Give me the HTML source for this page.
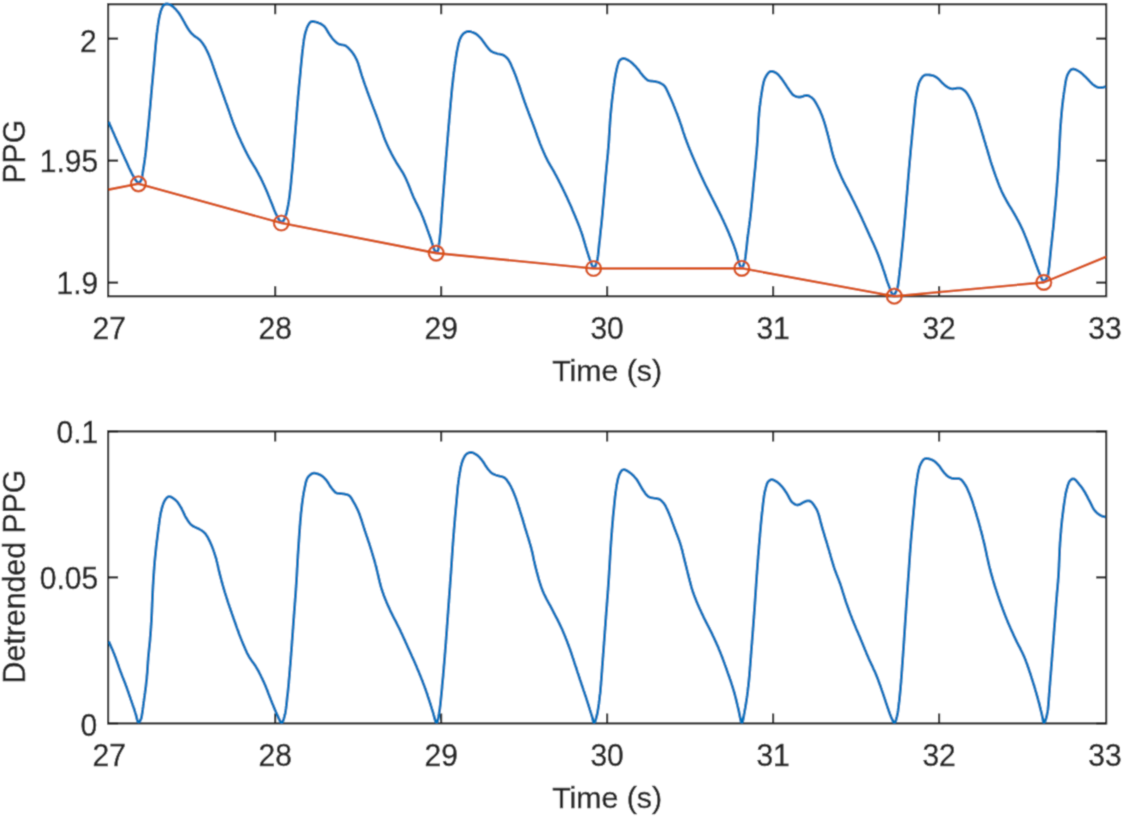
<!DOCTYPE html>
<html><head><meta charset="utf-8"><title>PPG</title>
<style>
html,body{margin:0;padding:0;background:#fff;}
body{width:1124px;height:818px;overflow:hidden;}
svg{display:block;}
.tk{font-family:"Liberation Sans",Arial,sans-serif;font-size:30.0px;fill:#262626;stroke:#262626;stroke-width:0.45px;}
.lb{font-family:"Liberation Sans",Arial,sans-serif;font-size:30.3px;fill:#262626;stroke:#262626;stroke-width:0.45px;}
</style></head><body>
<svg width="1124" height="818" viewBox="0 0 1124 818">
<defs><filter id="bl" x="0" y="0" width="1124" height="818" filterUnits="userSpaceOnUse"><feConvolveMatrix order="3" kernelMatrix="1 4 1 4 16 4 1 4 1" edgeMode="duplicate" preserveAlpha="true"/></filter></defs>
<g filter="url(#bl)">
<rect width="1124" height="818" fill="#fff"/>
<rect x="108.1" y="4.25" width="998.1" height="292.0" fill="none" stroke="#262626" stroke-width="2.2"/>
<path d="M275.18,296.25v-10M275.18,4.25v10M441.15,296.25v-10M441.15,4.25v10M607.12,296.25v-10M607.12,4.25v10M773.10,296.25v-10M773.10,4.25v10M939.08,296.25v-10M939.08,4.25v10M108.1,38.65h10M1106.2,38.65h-10M108.1,160.6h10M1106.2,160.6h-10M108.1,282.55h10M1106.2,282.55h-10" stroke="#262626" stroke-width="2.2" fill="none"/>
<text transform="translate(109.20,338.80) scale(1,1.04)" text-anchor="middle" class="tk">27</text>
<text transform="translate(275.18,338.80) scale(1,1.04)" text-anchor="middle" class="tk">28</text>
<text transform="translate(441.15,338.80) scale(1,1.04)" text-anchor="middle" class="tk">29</text>
<text transform="translate(607.12,338.80) scale(1,1.04)" text-anchor="middle" class="tk">30</text>
<text transform="translate(773.10,338.80) scale(1,1.04)" text-anchor="middle" class="tk">31</text>
<text transform="translate(939.08,338.80) scale(1,1.04)" text-anchor="middle" class="tk">32</text>
<text transform="translate(1105.05,338.80) scale(1,1.04)" text-anchor="middle" class="tk">33</text>
<text transform="translate(96.70,52.05) scale(1,1.04)" text-anchor="end" class="tk">2</text>
<text transform="translate(98.20,172.00) scale(1,1.04)" text-anchor="end" class="tk">1.95</text>
<text transform="translate(98.20,293.95) scale(1,1.04)" text-anchor="end" class="tk">1.9</text>
<clipPath id="clip4"><rect x="108.1" y="0.25" width="998.1" height="300.0"/></clipPath>
<g clip-path="url(#clip4)"><path d="M108.7,121.9 109.0,122.5 109.3,123.4 109.7,124.3 110.1,125.2 110.5,126.1 110.9,127.0 111.3,127.9 111.7,128.8 112.1,129.8 112.5,130.7 112.9,131.6 113.3,132.5 113.7,133.4 114.1,134.3 114.5,135.2 114.9,136.2 115.3,137.1 115.7,138.0 116.1,138.9 116.5,139.8 116.9,140.7 117.3,141.6 117.7,142.6 118.1,143.5 118.5,144.4 119.0,145.3 119.4,146.2 119.8,147.1 120.2,148.0 120.6,149.0 121.0,149.9 121.4,150.8 121.8,151.7 122.2,152.6 122.6,153.5 123.0,154.4 123.5,155.3 123.9,156.3 124.3,157.2 124.7,158.1 125.1,159.0 125.5,159.9 125.9,160.8 126.4,161.7 126.8,162.6 127.2,163.5 127.6,164.4 128.0,165.4 128.4,166.3 128.8,167.2 129.2,168.1 129.7,169.0 130.1,169.9 130.5,170.8 131.0,171.7 131.4,172.6 131.9,173.5 132.3,174.4 132.8,175.3 133.3,176.1 133.8,177.0 134.3,177.9 134.8,178.7 135.3,179.6 135.9,180.4 136.5,181.2 137.2,181.9 137.9,182.4 138.7,182.6 139.5,182.3 140.2,181.7 140.8,180.9 141.2,180.0 141.6,179.1 141.8,178.1 142.0,177.2 142.2,176.2 142.4,175.2 142.5,174.2 142.7,173.2 142.8,172.2 143.0,171.3 143.1,170.3 143.3,169.3 143.4,168.3 143.6,167.3 143.8,166.3 143.9,165.3 144.1,164.3 144.2,163.3 144.4,162.4 144.5,161.4 144.6,160.4 144.8,159.4 144.9,158.4 145.0,157.4 145.2,156.4 145.3,155.4 145.4,154.4 145.5,153.4 145.7,152.4 145.8,151.5 145.9,150.5 146.0,149.5 146.1,148.5 146.2,147.5 146.3,146.5 146.4,145.5 146.5,144.5 146.6,143.5 146.7,142.5 146.8,141.5 146.9,140.5 147.0,139.5 147.1,138.5 147.2,137.5 147.3,136.5 147.4,135.5 147.5,134.5 147.6,133.5 147.7,132.5 147.8,131.6 147.9,130.6 148.0,129.6 148.1,128.6 148.2,127.6 148.3,126.6 148.4,125.6 148.5,124.6 148.6,123.6 148.7,122.6 148.8,121.6 148.9,120.6 149.0,119.6 149.1,118.6 149.2,117.6 149.2,116.6 149.3,115.6 149.4,114.6 149.5,113.6 149.6,112.6 149.7,111.6 149.8,110.6 149.9,109.7 150.0,108.7 150.1,107.7 150.2,106.7 150.3,105.7 150.4,104.7 150.4,103.7 150.5,102.7 150.6,101.7 150.7,100.7 150.8,99.7 150.9,98.7 151.0,97.7 151.1,96.7 151.1,95.7 151.2,94.7 151.3,93.7 151.4,92.7 151.5,91.7 151.6,90.7 151.7,89.7 151.8,88.7 151.8,87.7 151.9,86.7 152.0,85.7 152.1,84.8 152.2,83.8 152.3,82.8 152.4,81.8 152.5,80.8 152.6,79.8 152.7,78.8 152.8,77.8 152.8,76.8 152.9,75.8 153.0,74.8 153.1,73.8 153.2,72.8 153.3,71.8 153.4,70.8 153.5,69.8 153.6,68.8 153.7,67.8 153.8,66.8 153.9,65.8 154.0,64.8 154.1,63.8 154.1,62.8 154.2,61.8 154.3,60.9 154.4,59.9 154.5,58.9 154.6,57.9 154.7,56.9 154.8,55.9 154.8,54.9 154.9,53.9 155.0,52.9 155.1,51.9 155.2,50.9 155.3,49.9 155.4,48.9 155.4,47.9 155.5,46.9 155.6,45.9 155.7,44.9 155.8,43.9 155.9,42.9 156.0,41.9 156.1,40.9 156.2,39.9 156.3,38.9 156.4,37.9 156.5,37.0 156.6,36.0 156.7,35.0 156.8,34.0 156.9,33.0 157.1,32.0 157.2,31.0 157.3,30.0 157.4,29.0 157.6,28.0 157.7,27.0 157.8,26.0 158.0,25.0 158.1,24.1 158.3,23.1 158.4,22.1 158.6,21.1 158.8,20.1 158.9,19.1 159.1,18.1 159.3,17.2 159.5,16.2 159.7,15.2 160.0,14.2 160.2,13.3 160.4,12.3 160.7,11.3 161.0,10.4 161.4,9.4 161.7,8.5 162.2,7.6 162.6,6.7 163.2,5.9 163.8,5.2 164.6,4.6 165.4,4.1 166.3,3.8 167.3,3.8 168.3,4.0 169.2,4.3 170.1,4.7 170.9,5.2 171.8,5.8 172.6,6.4 173.3,7.0 174.1,7.7 174.8,8.4 175.5,9.1 176.2,9.8 176.8,10.6 177.5,11.4 178.1,12.1 178.7,12.9 179.3,13.7 179.8,14.6 180.4,15.4 180.9,16.3 181.4,17.1 181.9,18.0 182.4,18.8 182.9,19.7 183.4,20.6 183.9,21.5 184.4,22.3 184.8,23.2 185.3,24.1 185.8,25.0 186.3,25.8 186.8,26.7 187.3,27.6 187.8,28.4 188.4,29.3 188.9,30.1 189.5,30.9 190.1,31.7 190.7,32.5 191.4,33.2 192.1,33.9 192.8,34.6 193.5,35.3 194.3,36.0 195.1,36.5 196.0,37.1 196.8,37.6 197.6,38.2 198.4,38.8 199.2,39.4 199.9,40.1 200.6,40.8 201.3,41.6 201.9,42.4 202.5,43.1 203.1,44.0 203.6,44.8 204.2,45.6 204.7,46.5 205.2,47.3 205.7,48.2 206.1,49.1 206.6,50.0 207.0,50.9 207.4,51.8 207.9,52.7 208.3,53.6 208.7,54.5 209.1,55.5 209.5,56.4 209.9,57.3 210.2,58.2 210.6,59.2 211.0,60.1 211.3,61.0 211.7,62.0 212.0,62.9 212.3,63.9 212.6,64.8 213.0,65.7 213.3,66.7 213.6,67.6 213.9,68.6 214.3,69.5 214.6,70.5 214.9,71.4 215.2,72.4 215.6,73.3 215.9,74.3 216.2,75.2 216.6,76.1 216.9,77.1 217.2,78.0 217.6,79.0 217.9,79.9 218.2,80.8 218.6,81.8 218.9,82.7 219.3,83.7 219.6,84.6 219.9,85.6 220.3,86.5 220.6,87.4 220.9,88.4 221.3,89.3 221.6,90.3 221.9,91.2 222.3,92.2 222.6,93.1 222.9,94.0 223.3,95.0 223.6,95.9 223.9,96.9 224.3,97.8 224.6,98.8 224.9,99.7 225.3,100.6 225.6,101.6 225.9,102.5 226.3,103.5 226.6,104.4 227.0,105.3 227.3,106.3 227.6,107.2 228.0,108.2 228.3,109.1 228.6,110.1 229.0,111.0 229.3,111.9 229.6,112.9 229.9,113.8 230.3,114.8 230.6,115.7 230.9,116.7 231.2,117.6 231.6,118.6 231.9,119.5 232.3,120.4 232.6,121.4 232.9,122.3 233.3,123.3 233.6,124.2 234.0,125.1 234.4,126.1 234.7,127.0 235.1,127.9 235.5,128.8 235.9,129.8 236.3,130.7 236.6,131.6 237.0,132.5 237.4,133.4 237.8,134.4 238.2,135.3 238.6,136.2 239.0,137.1 239.4,138.0 239.9,138.9 240.3,139.8 240.7,140.8 241.1,141.7 241.5,142.6 242.0,143.5 242.4,144.4 242.8,145.3 243.2,146.2 243.7,147.1 244.1,148.0 244.5,148.9 245.0,149.8 245.4,150.7 245.9,151.6 246.3,152.5 246.8,153.4 247.2,154.2 247.7,155.1 248.2,156.0 248.6,156.9 249.1,157.8 249.6,158.6 250.1,159.5 250.6,160.4 251.1,161.2 251.6,162.1 252.2,163.0 252.7,163.8 253.2,164.7 253.7,165.5 254.2,166.4 254.8,167.2 255.3,168.1 255.8,168.9 256.3,169.8 256.8,170.7 257.3,171.6 257.7,172.4 258.2,173.3 258.7,174.2 259.1,175.1 259.6,176.0 260.1,176.9 260.5,177.8 261.0,178.6 261.4,179.5 261.8,180.4 262.3,181.3 262.7,182.2 263.1,183.1 263.6,184.0 264.0,185.0 264.4,185.9 264.8,186.8 265.2,187.7 265.6,188.6 266.0,189.5 266.4,190.4 266.8,191.4 267.2,192.3 267.6,193.2 267.9,194.1 268.3,195.1 268.7,196.0 269.1,196.9 269.4,197.8 269.8,198.8 270.2,199.7 270.6,200.6 270.9,201.6 271.3,202.5 271.7,203.4 272.1,204.3 272.4,205.3 272.8,206.2 273.1,207.1 273.5,208.1 273.9,209.0 274.2,209.9 274.6,210.9 275.0,211.8 275.4,212.7 275.8,213.6 276.2,214.5 276.7,215.4 277.1,216.3 277.6,217.2 278.1,218.1 278.6,218.9 279.1,219.8 279.7,220.6 280.3,221.3 281.1,221.8 281.8,222.0 282.6,221.7 283.2,221.1 283.7,220.2 284.2,219.4 284.6,218.4 285.0,217.5 285.3,216.6 285.7,215.7 286.0,214.7 286.3,213.8 286.6,212.8 286.8,211.8 287.0,210.8 287.2,209.9 287.4,208.9 287.6,207.9 287.8,206.9 288.0,205.9 288.2,205.0 288.3,204.0 288.5,203.0 288.7,202.0 288.8,201.0 289.0,200.0 289.1,199.0 289.3,198.1 289.4,197.1 289.6,196.1 289.7,195.1 289.8,194.1 289.9,193.1 290.0,192.1 290.1,191.1 290.2,190.1 290.4,189.1 290.5,188.1 290.6,187.1 290.7,186.1 290.8,185.1 290.9,184.1 291.0,183.1 291.1,182.1 291.2,181.2 291.2,180.2 291.3,179.2 291.4,178.2 291.5,177.2 291.6,176.2 291.7,175.2 291.8,174.2 291.9,173.2 292.0,172.2 292.1,171.2 292.2,170.2 292.3,169.2 292.4,168.2 292.5,167.2 292.5,166.2 292.6,165.2 292.7,164.2 292.8,163.2 292.9,162.2 293.0,161.2 293.1,160.2 293.1,159.2 293.2,158.2 293.3,157.3 293.4,156.3 293.5,155.3 293.5,154.3 293.6,153.3 293.7,152.3 293.8,151.3 293.8,150.3 293.9,149.3 294.0,148.3 294.1,147.3 294.2,146.3 294.2,145.3 294.3,144.3 294.4,143.3 294.5,142.3 294.5,141.3 294.6,140.3 294.7,139.3 294.8,138.3 294.9,137.3 294.9,136.3 295.0,135.3 295.1,134.3 295.2,133.3 295.3,132.3 295.3,131.3 295.4,130.3 295.5,129.3 295.6,128.3 295.6,127.3 295.7,126.3 295.8,125.3 295.9,124.4 296.0,123.4 296.0,122.4 296.1,121.4 296.2,120.4 296.3,119.4 296.4,118.4 296.4,117.4 296.5,116.4 296.6,115.4 296.7,114.4 296.7,113.4 296.8,112.4 296.9,111.4 297.0,110.4 297.1,109.4 297.1,108.4 297.2,107.4 297.3,106.4 297.4,105.4 297.5,104.4 297.5,103.4 297.6,102.4 297.7,101.4 297.8,100.4 297.9,99.4 298.0,98.4 298.0,97.4 298.1,96.4 298.2,95.4 298.3,94.5 298.4,93.5 298.5,92.5 298.6,91.5 298.7,90.5 298.8,89.5 298.8,88.5 298.9,87.5 299.0,86.5 299.1,85.5 299.2,84.5 299.3,83.5 299.4,82.5 299.5,81.5 299.6,80.5 299.7,79.5 299.8,78.5 299.9,77.5 300.0,76.5 300.1,75.5 300.2,74.5 300.3,73.5 300.4,72.5 300.5,71.6 300.5,70.6 300.6,69.6 300.7,68.6 300.8,67.6 300.9,66.6 301.0,65.6 301.1,64.6 301.2,63.6 301.3,62.6 301.4,61.6 301.5,60.6 301.6,59.6 301.7,58.6 301.8,57.6 301.9,56.6 302.0,55.6 302.1,54.6 302.2,53.6 302.3,52.6 302.4,51.6 302.5,50.7 302.6,49.7 302.8,48.7 302.9,47.7 303.0,46.7 303.1,45.7 303.3,44.7 303.4,43.7 303.5,42.7 303.7,41.7 303.8,40.7 303.9,39.7 304.1,38.8 304.3,37.8 304.5,36.8 304.7,35.8 304.9,34.8 305.1,33.9 305.3,32.9 305.6,31.9 305.9,31.0 306.2,30.0 306.5,29.1 306.8,28.1 307.2,27.2 307.6,26.3 308.1,25.4 308.6,24.5 309.1,23.7 309.7,22.9 310.3,22.2 311.1,21.7 312.0,21.5 313.0,21.5 314.0,21.6 314.9,21.8 315.9,22.0 316.9,22.3 317.8,22.6 318.7,23.0 319.7,23.4 320.6,23.8 321.4,24.3 322.3,24.8 323.1,25.4 323.9,26.0 324.6,26.7 325.2,27.5 325.8,28.3 326.3,29.1 326.8,30.0 327.3,30.8 327.8,31.7 328.3,32.6 328.9,33.4 329.4,34.2 330.0,35.1 330.5,35.9 331.1,36.7 331.7,37.5 332.3,38.3 333.0,39.1 333.6,39.8 334.3,40.6 335.0,41.3 335.8,41.9 336.5,42.6 337.3,43.2 338.2,43.7 339.1,44.1 340.0,44.3 341.0,44.6 342.0,44.8 343.0,45.0 343.9,45.2 344.9,45.5 345.8,45.9 346.6,46.5 347.4,47.1 348.1,47.7 348.8,48.5 349.5,49.2 350.2,49.9 350.8,50.7 351.5,51.5 352.1,52.2 352.7,53.0 353.3,53.8 353.8,54.7 354.4,55.5 354.9,56.4 355.4,57.3 355.8,58.1 356.3,59.0 356.7,59.9 357.1,60.8 357.5,61.8 357.9,62.7 358.2,63.6 358.5,64.6 358.8,65.5 359.1,66.5 359.4,67.5 359.7,68.4 359.9,69.4 360.2,70.3 360.5,71.3 360.8,72.3 361.1,73.2 361.4,74.2 361.7,75.1 362.0,76.1 362.3,77.0 362.6,78.0 363.0,78.9 363.3,79.9 363.6,80.8 363.9,81.8 364.2,82.7 364.6,83.6 364.9,84.6 365.2,85.5 365.6,86.5 365.9,87.4 366.2,88.4 366.6,89.3 366.9,90.2 367.2,91.2 367.6,92.1 367.9,93.1 368.3,94.0 368.6,94.9 369.0,95.9 369.3,96.8 369.7,97.8 370.0,98.7 370.4,99.6 370.7,100.6 371.1,101.5 371.4,102.4 371.8,103.4 372.1,104.3 372.5,105.2 372.8,106.2 373.2,107.1 373.5,108.0 373.9,109.0 374.3,109.9 374.6,110.8 375.0,111.8 375.3,112.7 375.7,113.6 376.0,114.6 376.4,115.5 376.7,116.5 377.1,117.4 377.4,118.3 377.8,119.3 378.1,120.2 378.5,121.2 378.8,122.1 379.1,123.0 379.4,124.0 379.8,124.9 380.1,125.9 380.4,126.8 380.7,127.8 381.1,128.7 381.4,129.7 381.7,130.6 382.0,131.6 382.4,132.5 382.7,133.4 383.0,134.4 383.4,135.3 383.7,136.3 384.0,137.2 384.4,138.1 384.7,139.1 385.1,140.0 385.5,140.9 385.9,141.9 386.3,142.8 386.7,143.7 387.1,144.6 387.5,145.5 387.9,146.4 388.3,147.3 388.7,148.2 389.2,149.1 389.6,150.0 390.1,150.9 390.5,151.8 391.0,152.7 391.4,153.6 391.9,154.5 392.4,155.4 392.8,156.3 393.3,157.1 393.8,158.0 394.3,158.9 394.8,159.8 395.3,160.6 395.8,161.5 396.3,162.4 396.8,163.2 397.3,164.1 397.9,164.9 398.4,165.7 398.9,166.6 399.5,167.4 400.0,168.3 400.6,169.1 401.1,170.0 401.6,170.8 402.1,171.7 402.7,172.5 403.2,173.4 403.6,174.3 404.1,175.1 404.6,176.0 405.0,176.9 405.5,177.8 405.9,178.7 406.3,179.6 406.7,180.5 407.1,181.5 407.5,182.4 407.9,183.3 408.3,184.2 408.7,185.1 409.0,186.1 409.4,187.0 409.8,187.9 410.1,188.9 410.5,189.8 410.9,190.7 411.2,191.7 411.6,192.6 412.0,193.5 412.4,194.4 412.8,195.4 413.1,196.3 413.5,197.2 413.9,198.1 414.4,199.0 414.8,199.9 415.2,200.8 415.6,201.7 416.1,202.6 416.5,203.5 417.0,204.4 417.4,205.3 417.9,206.2 418.3,207.1 418.7,208.0 419.2,208.9 419.6,209.8 420.0,210.7 420.5,211.6 420.9,212.5 421.3,213.4 421.7,214.4 422.0,215.3 422.4,216.2 422.8,217.1 423.2,218.1 423.5,219.0 423.9,219.9 424.2,220.9 424.6,221.8 424.9,222.7 425.3,223.7 425.6,224.6 426.0,225.6 426.3,226.5 426.7,227.4 427.0,228.4 427.3,229.3 427.7,230.3 428.0,231.2 428.4,232.1 428.7,233.1 429.0,234.0 429.4,235.0 429.7,235.9 430.0,236.9 430.4,237.8 430.7,238.7 431.0,239.7 431.3,240.7 431.6,241.6 431.9,242.6 432.2,243.5 432.5,244.5 432.8,245.4 433.1,246.4 433.4,247.3 433.7,248.3 434.1,249.2 434.5,250.1 435.0,251.0 435.6,251.7 436.2,252.2 436.8,252.3 437.4,251.9 437.7,251.1 438.0,250.1 438.2,249.2 438.4,248.2 438.5,247.2 438.7,246.2 438.8,245.2 439.0,244.2 439.1,243.2 439.3,242.2 439.4,241.3 439.6,240.3 439.7,239.3 439.8,238.3 439.9,237.3 440.0,236.3 440.1,235.3 440.2,234.3 440.3,233.3 440.4,232.3 440.5,231.3 440.6,230.3 440.6,229.3 440.7,228.3 440.8,227.3 440.9,226.3 440.9,225.3 441.0,224.3 441.1,223.3 441.2,222.3 441.2,221.3 441.3,220.3 441.4,219.4 441.4,218.4 441.5,217.4 441.6,216.4 441.6,215.4 441.7,214.4 441.8,213.4 441.9,212.4 441.9,211.4 442.0,210.4 442.1,209.4 442.1,208.4 442.2,207.4 442.3,206.4 442.4,205.4 442.4,204.4 442.5,203.4 442.6,202.4 442.7,201.4 442.8,200.4 442.8,199.4 442.9,198.4 443.0,197.4 443.1,196.4 443.2,195.4 443.2,194.4 443.3,193.4 443.4,192.4 443.5,191.4 443.5,190.4 443.6,189.4 443.7,188.4 443.8,187.4 443.8,186.4 443.9,185.4 444.0,184.5 444.1,183.5 444.2,182.5 444.2,181.5 444.3,180.5 444.4,179.5 444.5,178.5 444.5,177.5 444.6,176.5 444.7,175.5 444.8,174.5 444.9,173.5 444.9,172.5 445.0,171.5 445.1,170.5 445.2,169.5 445.2,168.5 445.3,167.5 445.4,166.5 445.5,165.5 445.6,164.5 445.6,163.5 445.7,162.5 445.8,161.5 445.9,160.5 446.0,159.5 446.0,158.5 446.1,157.5 446.2,156.5 446.3,155.5 446.4,154.5 446.4,153.5 446.5,152.5 446.6,151.6 446.7,150.6 446.8,149.6 446.8,148.6 446.9,147.6 447.0,146.6 447.1,145.6 447.2,144.6 447.2,143.6 447.3,142.6 447.4,141.6 447.5,140.6 447.6,139.6 447.6,138.6 447.7,137.6 447.8,136.6 447.9,135.6 448.0,134.6 448.0,133.6 448.1,132.6 448.2,131.6 448.3,130.6 448.4,129.6 448.5,128.6 448.5,127.6 448.6,126.6 448.7,125.6 448.8,124.6 448.9,123.6 449.0,122.7 449.1,121.7 449.1,120.7 449.2,119.7 449.3,118.7 449.4,117.7 449.5,116.7 449.6,115.7 449.7,114.7 449.8,113.7 449.8,112.7 449.9,111.7 450.0,110.7 450.1,109.7 450.2,108.7 450.3,107.7 450.4,106.7 450.5,105.7 450.5,104.7 450.6,103.7 450.7,102.7 450.8,101.7 450.9,100.7 451.0,99.7 451.1,98.7 451.2,97.7 451.3,96.8 451.4,95.8 451.4,94.8 451.5,93.8 451.6,92.8 451.7,91.8 451.8,90.8 451.9,89.8 452.0,88.8 452.1,87.8 452.2,86.8 452.3,85.8 452.4,84.8 452.5,83.8 452.7,82.8 452.8,81.8 452.9,80.8 453.0,79.8 453.1,78.8 453.2,77.9 453.3,76.9 453.5,75.9 453.6,74.9 453.7,73.9 453.8,72.9 453.9,71.9 454.1,70.9 454.2,69.9 454.3,68.9 454.4,67.9 454.6,66.9 454.7,65.9 454.8,65.0 455.0,64.0 455.1,63.0 455.2,62.0 455.4,61.0 455.5,60.0 455.7,59.0 455.8,58.0 456.0,57.0 456.2,56.1 456.3,55.1 456.5,54.1 456.7,53.1 456.8,52.1 457.0,51.1 457.2,50.1 457.4,49.2 457.6,48.2 457.8,47.2 458.0,46.2 458.2,45.2 458.4,44.3 458.6,43.3 458.9,42.3 459.2,41.4 459.5,40.4 459.8,39.5 460.2,38.6 460.6,37.7 461.1,36.8 461.6,35.9 462.2,35.1 462.8,34.3 463.5,33.6 464.3,33.0 465.1,32.5 466.0,32.0 466.9,31.7 467.8,31.5 468.8,31.4 469.8,31.5 470.8,31.7 471.7,32.0 472.7,32.3 473.6,32.7 474.5,33.1 475.4,33.5 476.3,34.1 477.0,34.7 477.8,35.3 478.5,36.0 479.3,36.7 480.0,37.4 480.6,38.1 481.3,38.9 481.9,39.7 482.5,40.5 483.1,41.3 483.7,42.1 484.2,42.9 484.8,43.7 485.4,44.5 486.0,45.3 486.6,46.1 487.2,46.9 487.8,47.7 488.5,48.5 489.1,49.3 489.8,50.0 490.5,50.7 491.3,51.3 492.2,51.8 493.1,52.2 494.0,52.6 494.9,52.9 495.9,53.2 496.8,53.5 497.8,53.8 498.8,54.0 499.8,54.2 500.7,54.4 501.7,54.6 502.6,54.9 503.6,55.3 504.4,55.8 505.2,56.4 506.0,57.0 506.7,57.7 507.4,58.4 508.0,59.2 508.6,60.0 509.1,60.9 509.6,61.7 510.1,62.6 510.5,63.5 510.9,64.4 511.3,65.3 511.7,66.3 512.1,67.2 512.5,68.1 512.9,69.0 513.3,69.9 513.7,70.9 514.1,71.8 514.4,72.7 514.8,73.6 515.2,74.6 515.5,75.5 515.9,76.4 516.2,77.4 516.6,78.3 516.9,79.3 517.2,80.2 517.6,81.1 517.9,82.1 518.2,83.0 518.6,84.0 518.9,84.9 519.2,85.9 519.6,86.8 519.9,87.8 520.2,88.7 520.5,89.6 520.8,90.6 521.1,91.6 521.4,92.5 521.7,93.5 522.1,94.4 522.4,95.4 522.7,96.3 523.0,97.3 523.3,98.2 523.6,99.1 524.0,100.1 524.3,101.0 524.6,102.0 525.0,102.9 525.3,103.9 525.7,104.8 526.0,105.7 526.4,106.7 526.7,107.6 527.1,108.5 527.4,109.5 527.8,110.4 528.1,111.3 528.5,112.3 528.8,113.2 529.2,114.2 529.5,115.1 529.9,116.0 530.2,117.0 530.6,117.9 531.0,118.8 531.3,119.8 531.7,120.7 532.0,121.6 532.4,122.6 532.7,123.5 533.1,124.4 533.4,125.4 533.8,126.3 534.1,127.3 534.5,128.2 534.8,129.1 535.2,130.1 535.5,131.0 535.8,132.0 536.2,132.9 536.5,133.8 536.8,134.8 537.1,135.7 537.5,136.7 537.8,137.6 538.2,138.6 538.5,139.5 538.9,140.4 539.2,141.4 539.6,142.3 539.9,143.2 540.3,144.2 540.7,145.1 541.1,146.0 541.4,146.9 541.8,147.9 542.2,148.8 542.6,149.7 543.0,150.6 543.4,151.6 543.8,152.5 544.2,153.4 544.6,154.3 545.0,155.2 545.4,156.1 545.8,157.0 546.3,157.9 546.7,158.8 547.2,159.7 547.6,160.6 548.1,161.5 548.6,162.4 549.1,163.2 549.6,164.1 550.0,165.0 550.5,165.8 551.1,166.7 551.6,167.6 552.1,168.4 552.6,169.3 553.1,170.1 553.6,171.0 554.1,171.9 554.6,172.8 555.0,173.6 555.5,174.5 556.0,175.4 556.5,176.3 556.9,177.2 557.4,178.0 557.8,178.9 558.3,179.8 558.8,180.7 559.2,181.6 559.7,182.5 560.1,183.4 560.6,184.3 561.0,185.2 561.5,186.1 561.9,187.0 562.4,187.9 562.8,188.8 563.2,189.7 563.7,190.6 564.1,191.5 564.5,192.4 565.0,193.3 565.4,194.2 565.8,195.1 566.2,196.0 566.7,196.9 567.1,197.8 567.5,198.7 567.9,199.6 568.3,200.5 568.7,201.4 569.1,202.3 569.6,203.3 570.0,204.2 570.4,205.1 570.8,206.0 571.2,206.9 571.6,207.8 572.0,208.8 572.3,209.7 572.7,210.6 573.1,211.5 573.5,212.4 573.9,213.4 574.3,214.3 574.7,215.2 575.1,216.1 575.5,217.0 575.8,218.0 576.2,218.9 576.6,219.8 577.0,220.7 577.4,221.7 577.8,222.6 578.1,223.5 578.5,224.4 578.9,225.4 579.2,226.3 579.6,227.2 579.9,228.2 580.3,229.1 580.6,230.1 580.9,231.0 581.3,231.9 581.6,232.9 581.9,233.8 582.2,234.8 582.5,235.7 582.8,236.7 583.1,237.7 583.4,238.6 583.7,239.6 583.9,240.5 584.2,241.5 584.5,242.5 584.8,243.4 585.1,244.4 585.3,245.3 585.6,246.3 585.9,247.3 586.2,248.2 586.5,249.2 586.8,250.1 587.1,251.1 587.4,252.0 587.7,253.0 588.0,253.9 588.3,254.9 588.6,255.8 588.9,256.8 589.2,257.7 589.5,258.7 589.9,259.6 590.2,260.6 590.5,261.5 590.9,262.5 591.3,263.4 591.6,264.3 592.0,265.3 592.4,266.2 592.8,267.0 593.3,267.6 594.0,267.7 594.6,267.2 595.1,266.5 595.5,265.6 595.9,264.7 596.2,263.7 596.5,262.8 596.8,261.8 597.1,260.9 597.3,259.9 597.5,258.9 597.6,257.9 597.8,256.9 597.9,255.9 598.1,254.9 598.2,253.9 598.3,253.0 598.4,252.0 598.5,251.0 598.6,250.0 598.7,249.0 598.8,248.0 598.9,247.0 599.0,246.0 599.1,245.0 599.2,244.0 599.3,243.0 599.4,242.0 599.6,241.0 599.7,240.0 599.8,239.0 599.9,238.0 600.0,237.0 600.1,236.0 600.2,235.1 600.3,234.1 600.4,233.1 600.5,232.1 600.6,231.1 600.7,230.1 600.8,229.1 601.0,228.1 601.1,227.1 601.2,226.1 601.3,225.1 601.4,224.1 601.5,223.1 601.6,222.1 601.7,221.1 601.8,220.1 601.9,219.1 602.0,218.1 602.1,217.1 602.2,216.2 602.3,215.2 602.4,214.2 602.5,213.2 602.5,212.2 602.6,211.2 602.7,210.2 602.8,209.2 602.9,208.2 603.0,207.2 603.1,206.2 603.2,205.2 603.3,204.2 603.4,203.2 603.5,202.2 603.6,201.2 603.6,200.2 603.7,199.2 603.8,198.2 603.9,197.2 604.0,196.2 604.1,195.2 604.2,194.2 604.2,193.2 604.3,192.3 604.4,191.3 604.5,190.3 604.6,189.3 604.7,188.3 604.8,187.3 604.8,186.3 604.9,185.3 605.0,184.3 605.1,183.3 605.2,182.3 605.3,181.3 605.4,180.3 605.4,179.3 605.5,178.3 605.6,177.3 605.7,176.3 605.8,175.3 605.9,174.3 606.0,173.3 606.1,172.3 606.2,171.3 606.3,170.3 606.3,169.3 606.4,168.3 606.5,167.4 606.6,166.4 606.7,165.4 606.8,164.4 606.9,163.4 607.0,162.4 607.1,161.4 607.2,160.4 607.3,159.4 607.4,158.4 607.5,157.4 607.6,156.4 607.7,155.4 607.8,154.4 607.9,153.4 608.0,152.4 608.0,151.4 608.1,150.4 608.2,149.4 608.3,148.4 608.4,147.4 608.5,146.4 608.5,145.4 608.6,144.4 608.7,143.4 608.8,142.4 608.8,141.5 608.9,140.5 609.0,139.5 609.0,138.5 609.1,137.5 609.1,136.5 609.2,135.5 609.3,134.5 609.3,133.5 609.4,132.5 609.5,131.5 609.5,130.5 609.6,129.5 609.6,128.5 609.7,127.5 609.8,126.5 609.8,125.5 609.9,124.5 610.0,123.5 610.0,122.5 610.1,121.5 610.2,120.5 610.2,119.5 610.3,118.5 610.4,117.5 610.5,116.5 610.5,115.5 610.6,114.5 610.7,113.5 610.8,112.5 610.9,111.5 611.0,110.5 611.1,109.5 611.2,108.5 611.3,107.5 611.4,106.5 611.5,105.6 611.6,104.6 611.7,103.6 611.8,102.6 611.9,101.6 612.0,100.6 612.1,99.6 612.3,98.6 612.4,97.6 612.5,96.6 612.6,95.6 612.7,94.6 612.9,93.6 613.0,92.6 613.1,91.6 613.2,90.7 613.4,89.7 613.5,88.7 613.6,87.7 613.7,86.7 613.9,85.7 614.0,84.7 614.1,83.7 614.3,82.7 614.4,81.7 614.5,80.7 614.7,79.8 614.8,78.8 615.0,77.8 615.2,76.8 615.3,75.8 615.5,74.8 615.7,73.8 615.9,72.9 616.1,71.9 616.3,70.9 616.5,69.9 616.8,69.0 617.0,68.0 617.2,67.0 617.4,66.0 617.7,65.1 618.0,64.1 618.3,63.2 618.6,62.2 619.1,61.3 619.6,60.5 620.3,59.8 621.1,59.2 622.0,58.8 622.9,58.5 623.8,58.5 624.8,58.7 625.7,59.0 626.6,59.4 627.5,59.9 628.4,60.3 629.2,60.9 630.1,61.4 630.9,62.0 631.6,62.7 632.4,63.3 633.1,64.0 633.8,64.7 634.5,65.4 635.2,66.1 635.9,66.8 636.6,67.6 637.2,68.4 637.9,69.1 638.5,69.9 639.1,70.7 639.7,71.5 640.2,72.3 640.8,73.1 641.5,73.9 642.1,74.7 642.7,75.5 643.4,76.2 644.1,76.9 644.8,77.7 645.5,78.4 646.2,79.0 647.0,79.7 647.8,80.2 648.7,80.6 649.7,80.8 650.7,81.0 651.7,81.1 652.7,81.2 653.7,81.3 654.7,81.4 655.6,81.6 656.6,81.8 657.6,82.0 658.5,82.3 659.5,82.7 660.4,83.1 661.3,83.6 662.1,84.1 662.9,84.6 663.7,85.2 664.4,85.9 665.0,86.7 665.6,87.6 666.1,88.4 666.5,89.3 666.9,90.2 667.4,91.1 667.8,92.0 668.2,92.9 668.6,93.8 669.0,94.8 669.5,95.7 669.9,96.6 670.3,97.5 670.7,98.4 671.1,99.3 671.5,100.2 671.9,101.1 672.3,102.1 672.7,103.0 673.1,103.9 673.4,104.8 673.8,105.8 674.2,106.7 674.6,107.6 674.9,108.5 675.3,109.5 675.7,110.4 676.0,111.3 676.4,112.3 676.8,113.2 677.1,114.1 677.5,115.1 677.8,116.0 678.2,116.9 678.5,117.9 678.9,118.8 679.2,119.8 679.5,120.7 679.9,121.6 680.2,122.6 680.5,123.5 680.9,124.5 681.2,125.4 681.5,126.4 681.8,127.3 682.1,128.3 682.4,129.2 682.7,130.2 683.0,131.1 683.3,132.1 683.6,133.0 684.0,134.0 684.3,134.9 684.6,135.9 684.9,136.8 685.2,137.8 685.6,138.7 685.9,139.6 686.3,140.6 686.6,141.5 687.0,142.5 687.3,143.4 687.7,144.3 688.1,145.3 688.4,146.2 688.8,147.1 689.2,148.0 689.5,149.0 689.9,149.9 690.3,150.8 690.7,151.8 691.1,152.7 691.4,153.6 691.8,154.5 692.2,155.4 692.6,156.4 693.0,157.3 693.4,158.2 693.8,159.1 694.2,160.0 694.6,161.0 695.0,161.9 695.4,162.8 695.8,163.7 696.2,164.6 696.6,165.5 697.0,166.5 697.4,167.4 697.8,168.3 698.2,169.2 698.6,170.1 699.0,171.0 699.4,171.9 699.8,172.9 700.2,173.8 700.7,174.7 701.1,175.6 701.5,176.5 701.9,177.4 702.3,178.3 702.8,179.2 703.2,180.1 703.6,181.0 704.0,181.9 704.5,182.8 704.9,183.7 705.3,184.6 705.8,185.5 706.2,186.4 706.7,187.3 707.1,188.2 707.6,189.1 708.0,190.0 708.5,190.9 708.9,191.8 709.4,192.7 709.8,193.6 710.3,194.5 710.7,195.3 711.2,196.2 711.6,197.1 712.1,198.0 712.5,198.9 713.0,199.8 713.4,200.7 713.9,201.6 714.3,202.5 714.8,203.4 715.2,204.3 715.7,205.2 716.1,206.1 716.6,206.9 717.0,207.8 717.5,208.7 717.9,209.6 718.4,210.5 718.8,211.4 719.3,212.3 719.7,213.2 720.2,214.1 720.6,215.0 721.1,215.9 721.5,216.8 721.9,217.7 722.3,218.6 722.8,219.5 723.2,220.4 723.6,221.3 724.0,222.2 724.4,223.1 724.9,224.0 725.3,225.0 725.7,225.9 726.1,226.8 726.5,227.7 726.9,228.6 727.3,229.5 727.7,230.4 728.1,231.4 728.5,232.3 728.9,233.2 729.3,234.1 729.6,235.1 730.0,236.0 730.4,236.9 730.8,237.8 731.2,238.8 731.5,239.7 731.9,240.6 732.3,241.5 732.6,242.5 733.0,243.4 733.4,244.3 733.7,245.3 734.1,246.2 734.4,247.2 734.7,248.1 735.1,249.0 735.4,250.0 735.7,250.9 736.0,251.9 736.3,252.8 736.6,253.8 736.8,254.8 737.1,255.7 737.3,256.7 737.6,257.7 737.8,258.6 738.1,259.6 738.3,260.6 738.6,261.5 738.9,262.5 739.2,263.5 739.5,264.4 739.9,265.3 740.3,266.2 740.8,266.9 741.4,267.4 742.1,267.3 742.7,266.7 743.1,265.9 743.5,265.0 743.8,264.0 744.2,263.1 744.4,262.1 744.7,261.2 744.9,260.2 745.1,259.2 745.3,258.2 745.4,257.2 745.6,256.2 745.7,255.2 745.8,254.2 745.9,253.3 746.0,252.3 746.1,251.3 746.2,250.3 746.4,249.3 746.5,248.3 746.6,247.3 746.7,246.3 746.8,245.3 746.9,244.3 747.0,243.3 747.1,242.3 747.2,241.3 747.3,240.3 747.4,239.3 747.5,238.3 747.7,237.3 747.8,236.4 747.9,235.4 748.0,234.4 748.2,233.4 748.3,232.4 748.4,231.4 748.6,230.4 748.7,229.4 748.8,228.4 749.0,227.4 749.1,226.4 749.2,225.5 749.4,224.5 749.5,223.5 749.6,222.5 749.7,221.5 749.9,220.5 750.0,219.5 750.1,218.5 750.2,217.5 750.4,216.5 750.5,215.5 750.6,214.5 750.7,213.5 750.8,212.5 750.9,211.6 751.0,210.6 751.1,209.6 751.2,208.6 751.3,207.6 751.4,206.6 751.5,205.6 751.6,204.6 751.7,203.6 751.8,202.6 751.9,201.6 752.0,200.6 752.1,199.6 752.2,198.6 752.3,197.6 752.4,196.6 752.5,195.6 752.6,194.6 752.7,193.6 752.8,192.6 752.9,191.6 753.0,190.7 753.1,189.7 753.1,188.7 753.2,187.7 753.3,186.7 753.4,185.7 753.5,184.7 753.6,183.7 753.7,182.7 753.8,181.7 753.9,180.7 754.0,179.7 754.1,178.7 754.2,177.7 754.3,176.7 754.4,175.7 754.5,174.7 754.6,173.7 754.7,172.7 754.8,171.7 754.9,170.7 755.0,169.7 755.1,168.8 755.2,167.8 755.3,166.8 755.3,165.8 755.4,164.8 755.5,163.8 755.6,162.8 755.7,161.8 755.8,160.8 755.9,159.8 756.0,158.8 756.1,157.8 756.1,156.8 756.2,155.8 756.3,154.8 756.4,153.8 756.5,152.8 756.6,151.8 756.7,150.8 756.8,149.8 756.8,148.8 756.9,147.8 757.0,146.8 757.1,145.8 757.2,144.8 757.2,143.8 757.3,142.9 757.4,141.9 757.4,140.9 757.5,139.9 757.6,138.9 757.6,137.9 757.7,136.9 757.7,135.9 757.8,134.9 757.8,133.9 757.9,132.9 757.9,131.9 758.0,130.9 758.0,129.9 758.1,128.9 758.1,127.9 758.2,126.9 758.2,125.9 758.3,124.9 758.3,123.9 758.4,122.9 758.4,121.9 758.5,120.9 758.6,119.9 758.6,118.9 758.7,117.9 758.8,116.9 758.9,115.9 759.0,114.9 759.0,113.9 759.1,112.9 759.2,111.9 759.3,110.9 759.4,109.9 759.5,108.9 759.6,107.9 759.7,106.9 759.8,105.9 760.0,105.0 760.1,104.0 760.2,103.0 760.3,102.0 760.5,101.0 760.6,100.0 760.7,99.0 760.9,98.0 761.0,97.0 761.2,96.0 761.3,95.0 761.5,94.1 761.6,93.1 761.8,92.1 762.0,91.1 762.1,90.1 762.3,89.1 762.4,88.1 762.6,87.2 762.8,86.2 763.0,85.2 763.2,84.2 763.4,83.2 763.6,82.3 763.9,81.3 764.2,80.3 764.5,79.4 764.9,78.5 765.3,77.6 765.8,76.7 766.3,75.8 766.8,75.0 767.4,74.1 768.0,73.3 768.6,72.6 769.4,72.0 770.2,71.5 771.1,71.3 772.1,71.3 773.0,71.6 773.9,71.9 774.8,72.3 775.7,72.8 776.6,73.3 777.4,73.9 778.1,74.6 778.8,75.3 779.5,76.1 780.1,76.8 780.7,77.6 781.3,78.4 781.9,79.2 782.5,80.0 783.1,80.8 783.7,81.6 784.2,82.5 784.8,83.3 785.3,84.1 785.9,85.0 786.4,85.8 787.0,86.7 787.5,87.5 788.1,88.3 788.7,89.1 789.2,90.0 789.8,90.8 790.4,91.6 790.9,92.4 791.5,93.2 792.1,94.0 792.8,94.7 793.6,95.3 794.5,95.8 795.4,96.2 796.3,96.6 797.3,96.8 798.2,97.0 799.2,97.1 800.2,97.0 801.2,96.9 802.1,96.6 803.1,96.3 804.0,95.9 805.0,95.7 805.9,95.5 806.9,95.5 807.9,95.6 808.8,95.9 809.7,96.3 810.6,96.9 811.4,97.4 812.1,98.0 812.9,98.7 813.6,99.4 814.2,100.2 814.7,101.0 815.3,101.9 815.8,102.7 816.3,103.6 816.8,104.5 817.3,105.4 817.8,106.2 818.2,107.1 818.7,108.0 819.1,108.9 819.5,109.8 820.0,110.7 820.4,111.6 820.7,112.6 821.1,113.5 821.5,114.4 821.9,115.3 822.2,116.3 822.6,117.2 822.9,118.2 823.3,119.1 823.6,120.0 823.9,121.0 824.2,121.9 824.5,122.9 824.8,123.9 825.1,124.8 825.4,125.8 825.6,126.7 825.9,127.7 826.2,128.7 826.4,129.6 826.7,130.6 827.0,131.6 827.2,132.5 827.5,133.5 827.7,134.4 828.0,135.4 828.3,136.4 828.5,137.3 828.8,138.3 829.0,139.3 829.2,140.3 829.5,141.2 829.7,142.2 830.0,143.2 830.2,144.1 830.4,145.1 830.7,146.1 830.9,147.1 831.1,148.0 831.4,149.0 831.6,150.0 831.8,150.9 832.1,151.9 832.3,152.9 832.6,153.8 832.9,154.8 833.1,155.8 833.4,156.7 833.7,157.7 834.0,158.6 834.4,159.6 834.7,160.5 835.0,161.5 835.4,162.4 835.7,163.4 836.0,164.3 836.4,165.2 836.8,166.2 837.1,167.1 837.5,168.0 837.9,168.9 838.3,169.9 838.7,170.8 839.1,171.7 839.5,172.6 839.9,173.5 840.3,174.4 840.7,175.4 841.1,176.3 841.5,177.2 841.9,178.1 842.3,179.0 842.8,179.9 843.2,180.8 843.6,181.7 844.1,182.6 844.6,183.5 845.0,184.4 845.5,185.3 845.9,186.1 846.4,187.0 846.9,187.9 847.3,188.8 847.8,189.7 848.3,190.6 848.7,191.5 849.2,192.3 849.6,193.2 850.1,194.1 850.5,195.0 851.0,195.9 851.4,196.8 851.9,197.7 852.3,198.6 852.8,199.5 853.2,200.4 853.7,201.3 854.1,202.2 854.6,203.1 855.0,204.0 855.4,204.9 855.9,205.8 856.3,206.7 856.8,207.6 857.2,208.5 857.6,209.4 858.1,210.3 858.5,211.2 858.9,212.1 859.4,213.0 859.8,213.9 860.2,214.8 860.6,215.7 861.1,216.6 861.5,217.5 861.9,218.4 862.3,219.3 862.7,220.2 863.1,221.1 863.6,222.0 864.0,223.0 864.4,223.9 864.8,224.8 865.2,225.7 865.6,226.6 866.0,227.5 866.4,228.4 866.8,229.3 867.3,230.2 867.7,231.2 868.1,232.1 868.5,233.0 868.9,233.9 869.3,234.8 869.7,235.7 870.1,236.6 870.6,237.5 871.0,238.4 871.4,239.3 871.8,240.3 872.2,241.2 872.7,242.1 873.1,243.0 873.5,243.9 873.9,244.8 874.3,245.7 874.7,246.6 875.1,247.5 875.5,248.5 875.9,249.4 876.3,250.3 876.7,251.2 877.1,252.2 877.4,253.1 877.8,254.0 878.2,254.9 878.5,255.9 878.9,256.8 879.2,257.8 879.6,258.7 879.9,259.6 880.2,260.6 880.6,261.5 880.9,262.5 881.3,263.4 881.6,264.3 881.9,265.3 882.3,266.2 882.6,267.2 882.9,268.1 883.2,269.1 883.5,270.0 883.9,271.0 884.2,271.9 884.5,272.9 884.8,273.8 885.1,274.8 885.4,275.7 885.7,276.7 886.0,277.6 886.3,278.6 886.6,279.5 886.9,280.5 887.2,281.4 887.6,282.4 887.9,283.3 888.3,284.2 888.6,285.2 889.0,286.1 889.3,287.0 889.7,288.0 890.0,288.9 890.4,289.9 890.7,290.8 891.1,291.7 891.5,292.6 892.0,293.5 892.6,294.2 893.3,294.5 894.1,294.4 894.8,293.8 895.3,293.1 895.8,292.2 896.2,291.3 896.6,290.4 897.0,289.5 897.3,288.5 897.6,287.6 897.8,286.6 898.0,285.6 898.1,284.6 898.3,283.6 898.4,282.6 898.5,281.6 898.7,280.6 898.8,279.7 898.9,278.7 899.0,277.7 899.1,276.7 899.2,275.7 899.4,274.7 899.5,273.7 899.6,272.7 899.7,271.7 899.8,270.7 899.9,269.7 900.0,268.7 900.1,267.7 900.3,266.7 900.4,265.7 900.5,264.8 900.6,263.8 900.7,262.8 900.8,261.8 900.9,260.8 901.0,259.8 901.1,258.8 901.2,257.8 901.3,256.8 901.4,255.8 901.5,254.8 901.6,253.8 901.7,252.8 901.8,251.8 901.9,250.8 902.0,249.8 902.1,248.8 902.2,247.8 902.3,246.8 902.4,245.9 902.5,244.9 902.6,243.9 902.7,242.9 902.8,241.9 902.9,240.9 903.0,239.9 903.1,238.9 903.2,237.9 903.3,236.9 903.4,235.9 903.5,234.9 903.6,233.9 903.7,232.9 903.7,231.9 903.8,230.9 903.9,229.9 904.0,228.9 904.1,227.9 904.2,226.9 904.3,225.9 904.4,224.9 904.5,223.9 904.5,222.9 904.6,222.0 904.7,221.0 904.8,220.0 904.9,219.0 905.0,218.0 905.1,217.0 905.1,216.0 905.2,215.0 905.3,214.0 905.4,213.0 905.5,212.0 905.6,211.0 905.6,210.0 905.7,209.0 905.8,208.0 905.9,207.0 906.0,206.0 906.1,205.0 906.1,204.0 906.2,203.0 906.3,202.0 906.4,201.0 906.5,200.0 906.6,199.0 906.6,198.0 906.7,197.0 906.8,196.0 906.9,195.0 907.0,194.1 907.1,193.1 907.1,192.1 907.2,191.1 907.3,190.1 907.4,189.1 907.5,188.1 907.5,187.1 907.6,186.1 907.7,185.1 907.8,184.1 907.9,183.1 907.9,182.1 908.0,181.1 908.1,180.1 908.2,179.1 908.3,178.1 908.3,177.1 908.4,176.1 908.5,175.1 908.6,174.1 908.7,173.1 908.8,172.1 908.9,171.1 908.9,170.1 909.0,169.1 909.1,168.1 909.2,167.1 909.3,166.1 909.4,165.1 909.5,164.2 909.6,163.2 909.6,162.2 909.7,161.2 909.8,160.2 909.9,159.2 910.0,158.2 910.1,157.2 910.2,156.2 910.3,155.2 910.4,154.2 910.5,153.2 910.5,152.2 910.6,151.2 910.7,150.2 910.8,149.2 910.9,148.2 911.0,147.2 911.1,146.2 911.2,145.2 911.3,144.2 911.4,143.2 911.5,142.2 911.6,141.3 911.7,140.3 911.8,139.3 911.9,138.3 911.9,137.3 912.0,136.3 912.1,135.3 912.2,134.3 912.3,133.3 912.4,132.3 912.5,131.3 912.6,130.3 912.7,129.3 912.8,128.3 912.9,127.3 913.0,126.3 913.1,125.3 913.2,124.3 913.3,123.3 913.4,122.3 913.5,121.3 913.6,120.3 913.7,119.4 913.8,118.4 913.9,117.4 914.0,116.4 914.1,115.4 914.2,114.4 914.3,113.4 914.3,112.4 914.4,111.4 914.5,110.4 914.6,109.4 914.7,108.4 914.8,107.4 914.9,106.4 915.0,105.4 915.1,104.4 915.2,103.4 915.3,102.4 915.4,101.4 915.5,100.4 915.6,99.4 915.8,98.5 915.9,97.5 916.0,96.5 916.2,95.5 916.3,94.5 916.5,93.5 916.7,92.5 916.9,91.6 917.1,90.6 917.3,89.6 917.5,88.6 917.7,87.6 917.9,86.7 918.2,85.7 918.4,84.7 918.7,83.8 919.0,82.8 919.4,81.9 919.8,81.0 920.3,80.1 920.8,79.2 921.3,78.4 921.9,77.6 922.5,76.8 923.2,76.1 924.0,75.5 924.8,75.1 925.8,74.9 926.8,74.9 927.8,74.9 928.8,74.9 929.8,75.0 930.7,75.1 931.7,75.3 932.7,75.5 933.6,75.8 934.5,76.2 935.4,76.7 936.3,77.2 937.1,77.8 937.9,78.4 938.6,79.1 939.3,79.8 940.0,80.5 940.7,81.2 941.4,82.0 942.1,82.7 942.8,83.4 943.5,84.0 944.3,84.7 945.0,85.4 945.8,86.0 946.6,86.5 947.5,87.1 948.3,87.6 949.2,88.0 950.1,88.4 951.1,88.7 952.1,88.8 953.1,88.8 954.0,88.7 955.0,88.6 956.0,88.4 957.0,88.2 958.0,88.1 959.0,88.1 960.0,88.2 960.9,88.4 961.8,88.8 962.7,89.3 963.5,89.8 964.3,90.4 965.1,91.1 965.8,91.8 966.4,92.5 967.0,93.3 967.6,94.2 968.1,95.0 968.6,95.9 969.1,96.8 969.6,97.6 970.0,98.5 970.5,99.4 971.0,100.3 971.4,101.2 971.8,102.1 972.2,103.0 972.6,103.9 973.0,104.8 973.4,105.8 973.8,106.7 974.1,107.6 974.5,108.6 974.9,109.5 975.2,110.4 975.5,111.4 975.9,112.3 976.2,113.3 976.5,114.2 976.8,115.2 977.1,116.1 977.4,117.1 977.7,118.0 978.0,119.0 978.3,119.9 978.6,120.9 978.9,121.9 979.1,122.8 979.4,123.8 979.7,124.7 980.0,125.7 980.3,126.6 980.6,127.6 980.9,128.6 981.2,129.5 981.4,130.5 981.7,131.4 982.0,132.4 982.3,133.4 982.6,134.3 982.9,135.3 983.2,136.2 983.4,137.2 983.7,138.1 984.0,139.1 984.3,140.1 984.6,141.0 984.9,142.0 985.2,142.9 985.5,143.9 985.7,144.8 986.0,145.8 986.3,146.8 986.6,147.7 986.9,148.7 987.2,149.6 987.5,150.6 987.8,151.6 988.0,152.5 988.3,153.5 988.6,154.4 988.9,155.4 989.2,156.3 989.5,157.3 989.7,158.3 990.0,159.2 990.3,160.2 990.6,161.1 990.9,162.1 991.2,163.0 991.5,164.0 991.8,164.9 992.2,165.9 992.5,166.8 992.8,167.8 993.1,168.7 993.4,169.7 993.7,170.6 994.1,171.6 994.4,172.5 994.7,173.5 995.1,174.4 995.4,175.4 995.7,176.3 996.1,177.2 996.4,178.2 996.8,179.1 997.1,180.1 997.5,181.0 997.8,181.9 998.2,182.9 998.5,183.8 998.9,184.7 999.2,185.7 999.6,186.6 1000.0,187.5 1000.4,188.4 1000.8,189.3 1001.2,190.3 1001.6,191.2 1002.0,192.1 1002.5,193.0 1002.9,193.9 1003.3,194.8 1003.8,195.7 1004.3,196.6 1004.7,197.4 1005.2,198.3 1005.7,199.2 1006.2,200.1 1006.6,201.0 1007.1,201.8 1007.6,202.7 1008.1,203.6 1008.6,204.4 1009.1,205.3 1009.7,206.1 1010.2,207.0 1010.7,207.8 1011.2,208.7 1011.8,209.5 1012.3,210.4 1012.8,211.2 1013.3,212.1 1013.8,213.0 1014.3,213.8 1014.8,214.7 1015.3,215.6 1015.8,216.5 1016.3,217.3 1016.7,218.2 1017.2,219.1 1017.7,220.0 1018.2,220.9 1018.6,221.7 1019.1,222.6 1019.5,223.5 1020.0,224.4 1020.4,225.3 1020.9,226.2 1021.3,227.1 1021.7,228.0 1022.2,228.9 1022.6,229.8 1023.0,230.7 1023.4,231.6 1023.8,232.6 1024.2,233.5 1024.6,234.4 1024.9,235.3 1025.3,236.3 1025.7,237.2 1026.1,238.1 1026.4,239.0 1026.8,240.0 1027.1,240.9 1027.5,241.8 1027.9,242.8 1028.2,243.7 1028.6,244.6 1028.9,245.6 1029.3,246.5 1029.6,247.5 1030.0,248.4 1030.4,249.3 1030.7,250.3 1031.1,251.2 1031.4,252.1 1031.8,253.1 1032.1,254.0 1032.5,254.9 1032.8,255.9 1033.2,256.8 1033.5,257.7 1033.9,258.7 1034.2,259.6 1034.6,260.6 1034.9,261.5 1035.2,262.4 1035.6,263.4 1036.0,264.3 1036.3,265.2 1036.7,266.2 1037.0,267.1 1037.4,268.0 1037.7,269.0 1038.1,269.9 1038.4,270.9 1038.8,271.8 1039.2,272.7 1039.5,273.6 1039.9,274.6 1040.3,275.5 1040.7,276.4 1041.1,277.3 1041.5,278.2 1041.9,279.1 1042.4,280.0 1043.0,280.7 1043.7,281.0 1044.4,280.9 1045.2,280.4 1045.8,279.6 1046.4,278.8 1046.8,278.0 1047.3,277.1 1047.6,276.1 1047.9,275.2 1048.1,274.2 1048.2,273.2 1048.4,272.2 1048.5,271.2 1048.7,270.2 1048.8,269.2 1048.9,268.2 1049.1,267.3 1049.2,266.3 1049.3,265.3 1049.4,264.3 1049.5,263.3 1049.6,262.3 1049.7,261.3 1049.8,260.3 1049.9,259.3 1050.0,258.3 1050.1,257.3 1050.2,256.3 1050.3,255.3 1050.4,254.3 1050.5,253.3 1050.6,252.3 1050.7,251.3 1050.8,250.3 1050.9,249.3 1051.0,248.4 1051.1,247.4 1051.2,246.4 1051.3,245.4 1051.4,244.4 1051.6,243.4 1051.7,242.4 1051.8,241.4 1051.9,240.4 1052.0,239.4 1052.1,238.4 1052.2,237.4 1052.3,236.4 1052.4,235.4 1052.5,234.4 1052.6,233.4 1052.7,232.4 1052.8,231.5 1052.9,230.5 1053.1,229.5 1053.2,228.5 1053.3,227.5 1053.4,226.5 1053.5,225.5 1053.6,224.5 1053.7,223.5 1053.8,222.5 1053.8,221.5 1053.9,220.5 1054.0,219.5 1054.1,218.5 1054.2,217.5 1054.3,216.5 1054.4,215.5 1054.5,214.5 1054.6,213.5 1054.7,212.5 1054.8,211.5 1054.9,210.6 1055.0,209.6 1055.1,208.6 1055.1,207.6 1055.2,206.6 1055.3,205.6 1055.4,204.6 1055.5,203.6 1055.6,202.6 1055.7,201.6 1055.8,200.6 1055.8,199.6 1055.9,198.6 1056.0,197.6 1056.1,196.6 1056.2,195.6 1056.3,194.6 1056.3,193.6 1056.4,192.6 1056.5,191.6 1056.6,190.6 1056.7,189.6 1056.7,188.6 1056.8,187.6 1056.9,186.6 1057.0,185.6 1057.0,184.6 1057.1,183.6 1057.2,182.6 1057.3,181.6 1057.3,180.7 1057.4,179.7 1057.5,178.7 1057.6,177.7 1057.6,176.7 1057.7,175.7 1057.8,174.7 1057.8,173.7 1057.9,172.7 1058.0,171.7 1058.1,170.7 1058.1,169.7 1058.2,168.7 1058.3,167.7 1058.3,166.7 1058.4,165.7 1058.5,164.7 1058.5,163.7 1058.6,162.7 1058.6,161.7 1058.7,160.7 1058.8,159.7 1058.8,158.7 1058.9,157.7 1058.9,156.7 1059.0,155.7 1059.0,154.7 1059.1,153.7 1059.1,152.7 1059.2,151.7 1059.2,150.7 1059.3,149.7 1059.3,148.7 1059.4,147.7 1059.4,146.7 1059.5,145.7 1059.5,144.7 1059.6,143.7 1059.6,142.7 1059.7,141.7 1059.7,140.7 1059.8,139.7 1059.8,138.7 1059.9,137.7 1059.9,136.7 1060.0,135.7 1060.0,134.7 1060.1,133.7 1060.1,132.7 1060.2,131.7 1060.2,130.7 1060.3,129.7 1060.4,128.7 1060.4,127.7 1060.5,126.7 1060.5,125.7 1060.6,124.8 1060.7,123.8 1060.8,122.8 1060.9,121.8 1060.9,120.8 1061.0,119.8 1061.1,118.8 1061.2,117.8 1061.3,116.8 1061.4,115.8 1061.4,114.8 1061.5,113.8 1061.6,112.8 1061.7,111.8 1061.8,110.8 1061.9,109.8 1062.0,108.8 1062.1,107.8 1062.2,106.8 1062.3,105.8 1062.4,104.8 1062.5,103.8 1062.7,102.8 1062.8,101.9 1062.9,100.9 1063.0,99.9 1063.1,98.9 1063.3,97.9 1063.4,96.9 1063.5,95.9 1063.7,94.9 1063.8,93.9 1063.9,92.9 1064.1,91.9 1064.2,91.0 1064.4,90.0 1064.5,89.0 1064.7,88.0 1064.8,87.0 1065.0,86.0 1065.1,85.0 1065.3,84.0 1065.4,83.0 1065.6,82.1 1065.8,81.1 1066.0,80.1 1066.2,79.1 1066.4,78.1 1066.7,77.2 1067.0,76.2 1067.3,75.3 1067.7,74.4 1068.2,73.5 1068.7,72.6 1069.2,71.8 1069.8,71.0 1070.5,70.3 1071.2,69.6 1072.1,69.2 1073.0,69.0 1073.9,69.1 1074.9,69.3 1075.8,69.7 1076.7,70.1 1077.6,70.6 1078.5,71.1 1079.3,71.6 1080.1,72.1 1080.9,72.7 1081.7,73.4 1082.5,74.0 1083.2,74.7 1083.9,75.4 1084.6,76.1 1085.4,76.8 1086.1,77.5 1086.8,78.2 1087.5,78.9 1088.2,79.6 1088.8,80.4 1089.5,81.1 1090.2,81.9 1090.9,82.6 1091.6,83.3 1092.3,84.0 1093.0,84.6 1093.9,85.2 1094.7,85.8 1095.5,86.3 1096.4,86.7 1097.3,87.1 1098.3,87.4 1099.2,87.6 1100.2,87.6 1101.2,87.6 1102.2,87.5 1103.2,87.3 1104.1,87.0 1105.0,86.8 1105.6,86.5 1105.6,86.5" fill="none" stroke="#0072BD" stroke-width="2.8" stroke-linejoin="round"/><path d="M108.5,189.6 138.4,183.8 281.3,223.0 436.2,253.1 593.6,268.5 741.8,268.3 894.3,296.2 1043.8,282.4 1106.2,256.8" fill="none" stroke="#D95319" stroke-width="2.6" stroke-linejoin="round"/></g>
<text x="607.12" y="381.0" text-anchor="middle" class="lb">Time (s)</text>
<text transform="translate(24.5,151.6) rotate(-90) scale(1,1.05)" text-anchor="middle" class="lb">PPG</text>
<circle cx="138.4" cy="183.8" r="7.4" fill="none" stroke="#D95319" stroke-width="2.4"/><circle cx="281.3" cy="223.0" r="7.4" fill="none" stroke="#D95319" stroke-width="2.4"/><circle cx="436.2" cy="253.1" r="7.4" fill="none" stroke="#D95319" stroke-width="2.4"/><circle cx="593.6" cy="268.5" r="7.4" fill="none" stroke="#D95319" stroke-width="2.4"/><circle cx="741.8" cy="268.3" r="7.4" fill="none" stroke="#D95319" stroke-width="2.4"/><circle cx="894.3" cy="296.2" r="7.4" fill="none" stroke="#D95319" stroke-width="2.4"/><circle cx="1043.8" cy="282.4" r="7.4" fill="none" stroke="#D95319" stroke-width="2.4"/>
<rect x="108.1" y="431.4" width="998.1" height="292.0" fill="none" stroke="#262626" stroke-width="2.2"/>
<path d="M275.18,723.4v-10M275.18,431.4v10M441.15,723.4v-10M441.15,431.4v10M607.12,723.4v-10M607.12,431.4v10M773.10,723.4v-10M773.10,431.4v10M939.08,723.4v-10M939.08,431.4v10M108.1,431.4h10M1106.2,431.4h-10M108.1,577.4h10M1106.2,577.4h-10M108.1,723.4h10M1106.2,723.4h-10" stroke="#262626" stroke-width="2.2" fill="none"/>
<text transform="translate(109.20,765.80) scale(1,1.04)" text-anchor="middle" class="tk">27</text>
<text transform="translate(275.18,765.80) scale(1,1.04)" text-anchor="middle" class="tk">28</text>
<text transform="translate(441.15,765.80) scale(1,1.04)" text-anchor="middle" class="tk">29</text>
<text transform="translate(607.12,765.80) scale(1,1.04)" text-anchor="middle" class="tk">30</text>
<text transform="translate(773.10,765.80) scale(1,1.04)" text-anchor="middle" class="tk">31</text>
<text transform="translate(939.08,765.80) scale(1,1.04)" text-anchor="middle" class="tk">32</text>
<text transform="translate(1105.05,765.80) scale(1,1.04)" text-anchor="middle" class="tk">33</text>
<text transform="translate(98.20,442.80) scale(1,1.04)" text-anchor="end" class="tk">0.1</text>
<text transform="translate(98.20,588.80) scale(1,1.04)" text-anchor="end" class="tk">0.05</text>
<text transform="translate(97.20,736.20) scale(1,1.04)" text-anchor="end" class="tk">0</text>
<clipPath id="clip431"><rect x="108.1" y="427.4" width="998.1" height="300.0"/></clipPath>
<g clip-path="url(#clip431)"><path d="M108.7,641.4 109.0,642.0 109.4,642.8 109.8,643.7 110.2,644.6 110.6,645.5 111.0,646.5 111.4,647.4 111.8,648.3 112.2,649.2 112.6,650.1 113.0,651.1 113.3,652.0 113.7,652.9 114.1,653.8 114.5,654.8 114.8,655.7 115.2,656.6 115.6,657.6 115.9,658.5 116.2,659.4 116.6,660.4 116.9,661.3 117.2,662.3 117.6,663.2 117.9,664.1 118.2,665.1 118.6,666.0 118.9,667.0 119.2,667.9 119.6,668.9 119.9,669.8 120.2,670.7 120.6,671.7 120.9,672.6 121.3,673.6 121.7,674.5 122.0,675.4 122.4,676.4 122.7,677.3 123.1,678.2 123.5,679.1 123.8,680.1 124.2,681.0 124.6,681.9 124.9,682.9 125.3,683.8 125.6,684.7 126.0,685.7 126.3,686.6 126.7,687.6 127.0,688.5 127.3,689.4 127.7,690.4 128.0,691.3 128.3,692.3 128.7,693.2 129.0,694.2 129.3,695.1 129.6,696.1 130.0,697.0 130.3,697.9 130.6,698.9 130.9,699.8 131.3,700.8 131.6,701.7 131.9,702.7 132.3,703.6 132.6,704.6 132.9,705.5 133.2,706.5 133.6,707.4 133.9,708.3 134.2,709.3 134.5,710.2 134.8,711.2 135.1,712.1 135.4,713.1 135.7,714.0 136.0,715.0 136.2,716.0 136.5,717.0 136.7,717.9 136.9,718.9 137.2,719.9 137.5,720.8 137.9,721.6 138.5,722.0 139.1,721.9 139.7,721.3 140.3,720.5 140.7,719.6 141.1,718.7 141.4,717.8 141.6,716.8 141.8,715.8 141.9,714.8 142.1,713.8 142.3,712.8 142.4,711.9 142.5,710.9 142.7,709.9 142.8,708.9 142.9,707.9 143.1,706.9 143.2,705.9 143.3,704.9 143.5,703.9 143.6,702.9 143.7,701.9 143.9,700.9 144.0,700.0 144.1,699.0 144.3,698.0 144.4,697.0 144.6,696.0 144.7,695.0 144.8,694.0 145.0,693.0 145.1,692.0 145.2,691.0 145.4,690.1 145.5,689.1 145.6,688.1 145.8,687.1 145.9,686.1 146.0,685.1 146.1,684.1 146.2,683.1 146.3,682.1 146.4,681.1 146.6,680.1 146.7,679.1 146.8,678.1 146.8,677.1 146.9,676.1 147.0,675.1 147.1,674.1 147.2,673.2 147.3,672.2 147.3,671.2 147.4,670.2 147.5,669.2 147.5,668.2 147.6,667.2 147.7,666.2 147.7,665.2 147.8,664.2 147.9,663.2 147.9,662.2 148.0,661.2 148.1,660.2 148.2,659.2 148.2,658.2 148.3,657.2 148.4,656.2 148.5,655.2 148.6,654.2 148.7,653.2 148.8,652.2 148.9,651.2 149.0,650.2 149.1,649.2 149.2,648.2 149.3,647.2 149.4,646.2 149.5,645.3 149.6,644.3 149.7,643.3 149.8,642.3 149.9,641.3 150.0,640.3 150.1,639.3 150.1,638.3 150.2,637.3 150.3,636.3 150.4,635.3 150.5,634.3 150.5,633.3 150.6,632.3 150.7,631.3 150.8,630.3 150.8,629.3 150.9,628.3 151.0,627.3 151.0,626.3 151.1,625.3 151.2,624.3 151.2,623.3 151.3,622.3 151.4,621.3 151.4,620.3 151.5,619.3 151.5,618.3 151.6,617.3 151.6,616.3 151.7,615.3 151.7,614.3 151.8,613.3 151.8,612.3 151.9,611.3 151.9,610.3 151.9,609.3 152.0,608.3 152.0,607.3 152.1,606.3 152.1,605.3 152.1,604.3 152.2,603.3 152.2,602.3 152.3,601.3 152.3,600.3 152.4,599.3 152.4,598.3 152.4,597.4 152.5,596.4 152.5,595.4 152.6,594.4 152.6,593.4 152.7,592.4 152.7,591.4 152.8,590.4 152.8,589.4 152.9,588.4 152.9,587.4 153.0,586.4 153.0,585.4 153.1,584.4 153.2,583.4 153.2,582.4 153.3,581.4 153.3,580.4 153.4,579.4 153.5,578.4 153.5,577.4 153.6,576.4 153.7,575.4 153.7,574.4 153.8,573.4 153.9,572.4 153.9,571.4 154.0,570.4 154.1,569.4 154.2,568.4 154.2,567.4 154.3,566.4 154.4,565.4 154.5,564.4 154.6,563.4 154.6,562.4 154.7,561.4 154.8,560.4 154.9,559.4 155.0,558.4 155.1,557.4 155.2,556.4 155.3,555.5 155.4,554.5 155.5,553.5 155.6,552.5 155.7,551.5 155.8,550.5 155.9,549.5 156.0,548.5 156.1,547.5 156.2,546.5 156.3,545.5 156.5,544.5 156.6,543.5 156.7,542.5 156.8,541.5 156.9,540.5 157.1,539.6 157.2,538.6 157.3,537.6 157.4,536.6 157.6,535.6 157.7,534.6 157.8,533.6 157.9,532.6 158.1,531.6 158.2,530.6 158.3,529.6 158.4,528.6 158.5,527.6 158.7,526.7 158.8,525.7 158.9,524.7 159.1,523.7 159.2,522.7 159.3,521.7 159.5,520.7 159.6,519.7 159.7,518.7 159.9,517.7 160.1,516.7 160.2,515.8 160.4,514.8 160.6,513.8 160.8,512.8 161.0,511.8 161.3,510.9 161.5,509.9 161.7,508.9 162.0,508.0 162.2,507.0 162.5,506.0 162.8,505.1 163.1,504.1 163.5,503.2 163.9,502.3 164.3,501.4 164.8,500.5 165.3,499.7 165.9,498.8 166.5,498.1 167.2,497.4 168.0,496.9 168.9,496.6 169.8,496.7 170.7,496.9 171.6,497.3 172.5,497.8 173.3,498.4 174.2,499.0 175.0,499.6 175.7,500.2 176.4,500.9 177.1,501.7 177.7,502.4 178.3,503.3 178.8,504.1 179.4,504.9 179.9,505.8 180.4,506.6 181.0,507.5 181.4,508.3 181.9,509.2 182.3,510.1 182.8,511.0 183.2,511.9 183.6,512.8 184.0,513.8 184.5,514.7 184.9,515.6 185.3,516.4 185.8,517.3 186.3,518.2 186.9,519.0 187.4,519.9 187.9,520.7 188.5,521.5 189.1,522.4 189.7,523.2 190.3,523.9 191.0,524.6 191.8,525.3 192.6,525.8 193.4,526.4 194.3,526.8 195.2,527.2 196.2,527.6 197.1,528.1 198.0,528.5 198.9,528.9 199.7,529.4 200.6,529.9 201.5,530.4 202.3,531.0 203.1,531.6 203.9,532.2 204.6,532.9 205.3,533.6 205.9,534.4 206.4,535.2 207.0,536.1 207.5,536.9 208.0,537.8 208.4,538.7 208.9,539.6 209.3,540.5 209.8,541.4 210.2,542.3 210.6,543.2 211.0,544.1 211.4,545.0 211.8,545.9 212.2,546.9 212.5,547.8 212.9,548.7 213.2,549.7 213.6,550.6 213.9,551.6 214.2,552.5 214.5,553.5 214.8,554.4 215.1,555.4 215.4,556.3 215.7,557.3 216.0,558.2 216.3,559.2 216.5,560.2 216.7,561.1 217.0,562.1 217.2,563.1 217.4,564.1 217.7,565.0 217.9,566.0 218.1,567.0 218.3,568.0 218.5,568.9 218.8,569.9 219.0,570.9 219.2,571.9 219.5,572.8 219.7,573.8 219.9,574.8 220.2,575.7 220.5,576.7 220.7,577.7 221.0,578.6 221.2,579.6 221.5,580.6 221.7,581.5 222.0,582.5 222.3,583.5 222.5,584.4 222.8,585.4 223.1,586.4 223.4,587.3 223.6,588.3 223.9,589.2 224.2,590.2 224.5,591.2 224.8,592.1 225.1,593.1 225.4,594.0 225.7,595.0 226.0,595.9 226.3,596.9 226.6,597.8 226.9,598.8 227.2,599.7 227.5,600.7 227.8,601.6 228.1,602.6 228.4,603.5 228.8,604.5 229.1,605.4 229.4,606.4 229.7,607.3 230.1,608.3 230.4,609.2 230.7,610.2 231.0,611.1 231.4,612.0 231.7,613.0 232.0,613.9 232.4,614.9 232.7,615.8 233.0,616.8 233.3,617.7 233.7,618.7 234.0,619.6 234.3,620.5 234.7,621.5 235.0,622.4 235.3,623.4 235.7,624.3 236.0,625.3 236.3,626.2 236.7,627.1 237.0,628.1 237.3,629.0 237.7,630.0 238.0,630.9 238.4,631.8 238.7,632.8 239.0,633.7 239.4,634.7 239.8,635.6 240.1,636.5 240.5,637.5 240.9,638.4 241.2,639.3 241.6,640.2 242.0,641.2 242.4,642.1 242.7,643.0 243.1,643.9 243.5,644.9 243.9,645.8 244.3,646.7 244.7,647.6 245.1,648.6 245.5,649.5 245.9,650.4 246.3,651.3 246.7,652.2 247.1,653.1 247.6,654.0 248.1,654.9 248.5,655.8 249.0,656.6 249.5,657.5 250.1,658.3 250.6,659.2 251.2,660.0 251.8,660.8 252.3,661.6 252.9,662.4 253.5,663.2 254.1,664.0 254.7,664.9 255.3,665.7 255.8,666.5 256.3,667.4 256.8,668.2 257.3,669.1 257.8,670.0 258.3,670.8 258.8,671.7 259.2,672.6 259.7,673.5 260.1,674.4 260.6,675.3 261.0,676.2 261.4,677.1 261.9,678.0 262.3,678.9 262.7,679.8 263.1,680.7 263.6,681.6 264.0,682.5 264.4,683.5 264.8,684.4 265.2,685.3 265.6,686.2 265.9,687.1 266.3,688.1 266.7,689.0 267.1,689.9 267.4,690.9 267.8,691.8 268.1,692.7 268.5,693.7 268.9,694.6 269.2,695.5 269.6,696.5 269.9,697.4 270.3,698.3 270.7,699.2 271.0,700.2 271.4,701.1 271.8,702.0 272.1,703.0 272.5,703.9 272.9,704.8 273.3,705.7 273.7,706.7 274.0,707.6 274.4,708.5 274.8,709.4 275.2,710.4 275.6,711.3 276.0,712.2 276.4,713.1 276.8,714.0 277.2,714.9 277.6,715.8 278.1,716.7 278.5,717.7 278.9,718.6 279.3,719.5 279.7,720.4 280.1,721.3 280.7,722.0 281.3,722.5 282.0,722.4 282.5,721.9 283.0,721.1 283.4,720.1 283.7,719.2 284.0,718.2 284.2,717.3 284.5,716.3 284.7,715.3 285.0,714.4 285.2,713.4 285.4,712.4 285.5,711.4 285.7,710.4 285.8,709.5 286.0,708.5 286.1,707.5 286.2,706.5 286.4,705.5 286.5,704.5 286.6,703.5 286.7,702.5 286.8,701.5 286.9,700.5 287.0,699.5 287.1,698.5 287.2,697.5 287.3,696.5 287.4,695.5 287.6,694.6 287.7,693.6 287.8,692.6 287.9,691.6 288.0,690.6 288.1,689.6 288.2,688.6 288.3,687.6 288.4,686.6 288.5,685.6 288.6,684.6 288.7,683.6 288.8,682.6 288.8,681.6 288.9,680.6 289.0,679.6 289.1,678.6 289.2,677.6 289.3,676.6 289.4,675.6 289.4,674.6 289.5,673.6 289.6,672.6 289.7,671.7 289.8,670.7 289.9,669.7 289.9,668.7 290.0,667.7 290.1,666.7 290.2,665.7 290.3,664.7 290.4,663.7 290.4,662.7 290.5,661.7 290.6,660.7 290.7,659.7 290.8,658.7 290.8,657.7 290.9,656.7 291.0,655.7 291.1,654.7 291.1,653.7 291.2,652.7 291.3,651.7 291.4,650.7 291.5,649.7 291.5,648.7 291.6,647.7 291.7,646.7 291.8,645.7 291.8,644.7 291.9,643.7 292.0,642.7 292.0,641.7 292.1,640.7 292.2,639.7 292.3,638.8 292.3,637.8 292.4,636.8 292.5,635.8 292.5,634.8 292.6,633.8 292.7,632.8 292.8,631.8 292.8,630.8 292.9,629.8 293.0,628.8 293.1,627.8 293.1,626.8 293.2,625.8 293.3,624.8 293.3,623.8 293.4,622.8 293.5,621.8 293.6,620.8 293.6,619.8 293.7,618.8 293.8,617.8 293.9,616.8 293.9,615.8 294.0,614.8 294.1,613.8 294.2,612.8 294.2,611.8 294.3,610.8 294.4,609.8 294.5,608.8 294.5,607.8 294.6,606.8 294.7,605.8 294.8,604.8 294.8,603.8 294.9,602.9 295.0,601.9 295.1,600.9 295.1,599.9 295.2,598.9 295.3,597.9 295.4,596.9 295.4,595.9 295.5,594.9 295.6,593.9 295.7,592.9 295.7,591.9 295.8,590.9 295.9,589.9 295.9,588.9 296.0,587.9 296.1,586.9 296.1,585.9 296.2,584.9 296.3,583.9 296.3,582.9 296.4,581.9 296.5,580.9 296.5,579.9 296.6,578.9 296.6,577.9 296.7,576.9 296.8,575.9 296.8,574.9 296.9,573.9 296.9,572.9 297.0,571.9 297.0,570.9 297.1,569.9 297.1,568.9 297.2,567.9 297.3,566.9 297.3,565.9 297.4,564.9 297.4,563.9 297.5,562.9 297.5,561.9 297.6,560.9 297.6,559.9 297.7,558.9 297.8,557.9 297.8,556.9 297.9,555.9 297.9,554.9 298.0,553.9 298.1,553.0 298.1,552.0 298.2,551.0 298.3,550.0 298.3,549.0 298.4,548.0 298.5,547.0 298.5,546.0 298.6,545.0 298.7,544.0 298.7,543.0 298.8,542.0 298.9,541.0 298.9,540.0 299.0,539.0 299.1,538.0 299.1,537.0 299.2,536.0 299.3,535.0 299.3,534.0 299.4,533.0 299.5,532.0 299.6,531.0 299.6,530.0 299.7,529.0 299.8,528.0 299.8,527.0 299.9,526.0 300.0,525.0 300.1,524.0 300.2,523.0 300.2,522.0 300.3,521.0 300.4,520.0 300.5,519.0 300.6,518.0 300.7,517.0 300.8,516.0 300.8,515.1 300.9,514.1 301.0,513.1 301.1,512.1 301.3,511.1 301.4,510.1 301.5,509.1 301.6,508.1 301.7,507.1 301.8,506.1 301.9,505.1 302.0,504.1 302.2,503.1 302.3,502.1 302.4,501.1 302.6,500.2 302.7,499.2 302.8,498.2 303.0,497.2 303.1,496.2 303.3,495.2 303.5,494.2 303.6,493.2 303.8,492.3 304.0,491.3 304.2,490.3 304.4,489.3 304.6,488.3 304.8,487.3 305.0,486.4 305.2,485.4 305.4,484.4 305.6,483.4 305.8,482.5 306.1,481.5 306.4,480.5 306.7,479.6 307.1,478.7 307.5,477.8 308.1,477.0 308.8,476.2 309.5,475.5 310.2,474.9 311.0,474.3 311.8,473.8 312.7,473.4 313.7,473.2 314.7,473.2 315.7,473.4 316.6,473.6 317.6,473.9 318.5,474.2 319.5,474.6 320.4,475.0 321.2,475.5 322.1,476.0 322.8,476.6 323.6,477.3 324.3,478.0 325.0,478.7 325.7,479.4 326.3,480.2 326.9,481.0 327.5,481.8 328.0,482.7 328.6,483.5 329.1,484.4 329.6,485.2 330.1,486.1 330.7,486.9 331.3,487.7 331.9,488.5 332.5,489.3 333.2,490.0 333.8,490.8 334.5,491.5 335.2,492.2 336.0,492.7 336.9,493.1 337.9,493.3 338.9,493.4 339.9,493.5 340.9,493.6 341.9,493.7 342.9,493.8 343.8,493.9 344.8,494.1 345.8,494.3 346.8,494.5 347.7,494.8 348.6,495.2 349.4,495.8 350.1,496.5 350.7,497.2 351.3,498.1 351.8,498.9 352.3,499.8 352.8,500.7 353.3,501.5 353.8,502.4 354.3,503.2 354.8,504.1 355.3,505.0 355.7,505.9 356.2,506.8 356.6,507.7 357.1,508.6 357.5,509.5 357.9,510.4 358.3,511.3 358.7,512.2 359.1,513.2 359.4,514.1 359.8,515.0 360.1,516.0 360.4,516.9 360.7,517.9 361.1,518.8 361.4,519.8 361.7,520.7 362.0,521.7 362.3,522.6 362.6,523.6 362.9,524.5 363.2,525.5 363.5,526.4 363.8,527.4 364.1,528.3 364.4,529.3 364.7,530.2 365.0,531.2 365.4,532.1 365.7,533.1 366.0,534.0 366.3,535.0 366.6,535.9 367.0,536.9 367.3,537.8 367.6,538.8 367.9,539.7 368.2,540.7 368.5,541.6 368.9,542.6 369.2,543.5 369.5,544.5 369.8,545.4 370.1,546.4 370.4,547.3 370.7,548.3 371.0,549.2 371.3,550.2 371.6,551.1 371.9,552.1 372.2,553.1 372.5,554.0 372.7,555.0 373.0,555.9 373.3,556.9 373.6,557.8 373.9,558.8 374.2,559.8 374.4,560.7 374.7,561.7 375.0,562.7 375.2,563.6 375.5,564.6 375.8,565.5 376.0,566.5 376.3,567.5 376.5,568.5 376.7,569.4 377.0,570.4 377.2,571.4 377.4,572.3 377.7,573.3 377.9,574.3 378.1,575.3 378.3,576.2 378.6,577.2 378.8,578.2 379.0,579.2 379.3,580.1 379.5,581.1 379.7,582.1 380.0,583.0 380.2,584.0 380.5,585.0 380.7,586.0 381.0,586.9 381.3,587.9 381.6,588.8 381.9,589.8 382.2,590.7 382.5,591.7 382.8,592.6 383.2,593.6 383.5,594.5 383.8,595.5 384.2,596.4 384.6,597.3 384.9,598.3 385.3,599.2 385.7,600.1 386.1,601.0 386.4,601.9 386.8,602.9 387.2,603.8 387.6,604.7 388.0,605.6 388.4,606.5 388.9,607.4 389.3,608.4 389.7,609.3 390.1,610.2 390.5,611.1 390.9,612.0 391.4,612.9 391.8,613.8 392.3,614.7 392.7,615.6 393.2,616.5 393.6,617.4 394.1,618.2 394.5,619.1 395.0,620.0 395.5,620.9 395.9,621.8 396.4,622.7 396.8,623.6 397.3,624.5 397.7,625.4 398.2,626.2 398.6,627.1 399.1,628.0 399.5,628.9 399.9,629.8 400.4,630.7 400.8,631.7 401.2,632.6 401.6,633.5 402.1,634.4 402.5,635.3 402.9,636.2 403.3,637.1 403.7,638.0 404.1,638.9 404.5,639.8 405.0,640.7 405.4,641.7 405.8,642.6 406.2,643.5 406.6,644.4 407.0,645.3 407.4,646.2 407.8,647.1 408.2,648.0 408.6,649.0 409.1,649.9 409.5,650.8 409.9,651.7 410.3,652.6 410.7,653.5 411.1,654.4 411.5,655.3 411.9,656.3 412.3,657.2 412.8,658.1 413.2,659.0 413.6,659.9 414.0,660.8 414.4,661.7 414.8,662.6 415.2,663.6 415.6,664.5 416.0,665.4 416.4,666.3 416.8,667.2 417.1,668.2 417.5,669.1 417.9,670.0 418.3,670.9 418.7,671.8 419.1,672.8 419.5,673.7 419.8,674.6 420.2,675.5 420.6,676.5 421.0,677.4 421.3,678.3 421.7,679.3 422.1,680.2 422.4,681.1 422.8,682.1 423.1,683.0 423.5,683.9 423.9,684.9 424.2,685.8 424.6,686.7 424.9,687.7 425.2,688.6 425.6,689.6 425.9,690.5 426.2,691.4 426.6,692.4 426.9,693.3 427.2,694.3 427.5,695.2 427.8,696.2 428.1,697.1 428.4,698.1 428.8,699.0 429.1,700.0 429.4,700.9 429.7,701.9 430.0,702.8 430.3,703.8 430.6,704.7 430.9,705.7 431.2,706.6 431.5,707.6 431.8,708.6 432.1,709.5 432.4,710.5 432.7,711.4 433.0,712.4 433.3,713.3 433.5,714.3 433.8,715.3 434.0,716.2 434.3,717.2 434.5,718.2 434.8,719.1 435.1,720.1 435.4,721.0 435.8,721.8 436.3,722.3 436.8,722.3 437.3,721.7 437.6,720.9 437.9,719.9 438.1,718.9 438.3,718.0 438.5,717.0 438.6,716.0 438.8,715.0 439.0,714.0 439.1,713.0 439.3,712.1 439.5,711.1 439.6,710.1 439.8,709.1 439.9,708.1 440.0,707.1 440.2,706.1 440.3,705.1 440.4,704.1 440.5,703.1 440.6,702.1 440.7,701.1 440.8,700.2 440.9,699.2 441.0,698.2 441.1,697.2 441.2,696.2 441.3,695.2 441.4,694.2 441.5,693.2 441.6,692.2 441.7,691.2 441.8,690.2 441.9,689.2 442.0,688.2 442.1,687.2 442.1,686.2 442.2,685.2 442.3,684.2 442.4,683.2 442.5,682.2 442.6,681.2 442.7,680.2 442.8,679.2 442.9,678.3 443.0,677.3 443.1,676.3 443.2,675.3 443.2,674.3 443.3,673.3 443.4,672.3 443.5,671.3 443.6,670.3 443.7,669.3 443.8,668.3 443.8,667.3 443.9,666.3 444.0,665.3 444.1,664.3 444.2,663.3 444.3,662.3 444.3,661.3 444.4,660.3 444.5,659.3 444.6,658.3 444.7,657.3 444.8,656.3 444.8,655.3 444.9,654.3 445.0,653.3 445.1,652.3 445.2,651.3 445.2,650.3 445.3,649.4 445.4,648.4 445.5,647.4 445.6,646.4 445.6,645.4 445.7,644.4 445.8,643.4 445.9,642.4 445.9,641.4 446.0,640.4 446.1,639.4 446.2,638.4 446.2,637.4 446.3,636.4 446.4,635.4 446.5,634.4 446.5,633.4 446.6,632.4 446.7,631.4 446.8,630.4 446.8,629.4 446.9,628.4 447.0,627.4 447.0,626.4 447.1,625.4 447.2,624.4 447.3,623.4 447.3,622.4 447.4,621.4 447.5,620.4 447.5,619.4 447.6,618.4 447.7,617.4 447.8,616.4 447.8,615.4 447.9,614.4 448.0,613.5 448.1,612.5 448.1,611.5 448.2,610.5 448.3,609.5 448.3,608.5 448.4,607.5 448.5,606.5 448.6,605.5 448.6,604.5 448.7,603.5 448.8,602.5 448.9,601.5 448.9,600.5 449.0,599.5 449.1,598.5 449.2,597.5 449.2,596.5 449.3,595.5 449.4,594.5 449.4,593.5 449.5,592.5 449.6,591.5 449.7,590.5 449.7,589.5 449.8,588.5 449.9,587.5 450.0,586.5 450.0,585.5 450.1,584.5 450.2,583.5 450.2,582.5 450.3,581.5 450.4,580.5 450.5,579.5 450.5,578.5 450.6,577.5 450.7,576.6 450.7,575.6 450.8,574.6 450.9,573.6 451.0,572.6 451.0,571.6 451.1,570.6 451.2,569.6 451.2,568.6 451.3,567.6 451.4,566.6 451.4,565.6 451.5,564.6 451.6,563.6 451.6,562.6 451.7,561.6 451.8,560.6 451.8,559.6 451.9,558.6 452.0,557.6 452.0,556.6 452.1,555.6 452.2,554.6 452.2,553.6 452.3,552.6 452.4,551.6 452.4,550.6 452.5,549.6 452.6,548.6 452.6,547.6 452.7,546.6 452.8,545.6 452.9,544.6 452.9,543.6 453.0,542.6 453.1,541.6 453.2,540.6 453.2,539.6 453.3,538.6 453.4,537.6 453.5,536.6 453.5,535.7 453.6,534.7 453.7,533.7 453.8,532.7 453.9,531.7 453.9,530.7 454.0,529.7 454.1,528.7 454.2,527.7 454.3,526.7 454.4,525.7 454.4,524.7 454.5,523.7 454.6,522.7 454.7,521.7 454.8,520.7 454.9,519.7 454.9,518.7 455.0,517.7 455.1,516.7 455.2,515.7 455.3,514.7 455.4,513.7 455.5,512.7 455.6,511.7 455.7,510.7 455.7,509.7 455.8,508.7 455.9,507.8 456.0,506.8 456.1,505.8 456.2,504.8 456.3,503.8 456.4,502.8 456.5,501.8 456.6,500.8 456.6,499.8 456.7,498.8 456.8,497.8 456.9,496.8 457.0,495.8 457.1,494.8 457.2,493.8 457.3,492.8 457.4,491.8 457.4,490.8 457.5,489.8 457.6,488.8 457.7,487.8 457.8,486.8 457.9,485.8 458.0,484.9 458.2,483.9 458.3,482.9 458.4,481.9 458.5,480.9 458.7,479.9 458.8,478.9 458.9,477.9 459.1,476.9 459.2,475.9 459.4,474.9 459.6,474.0 459.7,473.0 459.9,472.0 460.1,471.0 460.2,470.0 460.4,469.0 460.6,468.1 460.8,467.1 461.0,466.1 461.3,465.1 461.5,464.2 461.8,463.2 462.1,462.2 462.4,461.3 462.8,460.4 463.1,459.4 463.5,458.5 464.0,457.6 464.4,456.7 464.9,455.9 465.5,455.1 466.2,454.3 466.9,453.7 467.8,453.2 468.7,452.8 469.6,452.6 470.6,452.4 471.6,452.5 472.5,452.7 473.5,453.0 474.4,453.5 475.2,453.9 476.1,454.5 476.9,455.0 477.7,455.6 478.4,456.3 479.2,457.0 479.8,457.7 480.5,458.5 481.2,459.2 481.8,460.0 482.4,460.8 483.0,461.6 483.5,462.4 484.1,463.3 484.6,464.1 485.1,465.0 485.7,465.8 486.2,466.7 486.8,467.5 487.4,468.3 488.0,469.1 488.6,469.8 489.3,470.6 489.9,471.3 490.6,472.1 491.3,472.7 492.1,473.4 493.0,473.9 493.9,474.3 494.8,474.7 495.7,475.0 496.7,475.3 497.7,475.6 498.6,475.8 499.6,476.1 500.6,476.3 501.5,476.5 502.5,476.8 503.4,477.2 504.3,477.6 505.1,478.2 505.8,478.9 506.5,479.6 507.1,480.4 507.6,481.2 508.2,482.1 508.7,482.9 509.3,483.7 509.8,484.6 510.3,485.5 510.8,486.3 511.2,487.2 511.6,488.1 512.1,489.0 512.5,489.9 512.9,490.9 513.3,491.8 513.7,492.7 514.0,493.6 514.4,494.6 514.8,495.5 515.2,496.4 515.5,497.3 515.9,498.3 516.2,499.2 516.5,500.2 516.9,501.1 517.2,502.1 517.5,503.0 517.8,504.0 518.1,504.9 518.4,505.9 518.7,506.8 519.0,507.8 519.3,508.7 519.6,509.7 519.9,510.6 520.2,511.6 520.5,512.5 520.8,513.5 521.1,514.5 521.4,515.4 521.7,516.4 522.0,517.3 522.3,518.3 522.6,519.2 522.9,520.2 523.1,521.2 523.4,522.1 523.7,523.1 524.0,524.0 524.3,525.0 524.6,525.9 524.8,526.9 525.1,527.9 525.4,528.8 525.7,529.8 526.0,530.7 526.3,531.7 526.6,532.7 526.9,533.6 527.2,534.6 527.5,535.5 527.8,536.5 528.1,537.4 528.4,538.4 528.7,539.3 528.9,540.3 529.2,541.2 529.5,542.2 529.8,543.2 530.1,544.1 530.4,545.1 530.6,546.0 530.9,547.0 531.2,548.0 531.4,548.9 531.7,549.9 531.9,550.9 532.1,551.9 532.4,552.8 532.6,553.8 532.8,554.8 533.0,555.8 533.2,556.7 533.4,557.7 533.6,558.7 533.8,559.7 534.0,560.6 534.3,561.6 534.5,562.6 534.7,563.6 534.9,564.6 535.1,565.5 535.4,566.5 535.6,567.5 535.9,568.4 536.1,569.4 536.4,570.4 536.6,571.3 536.9,572.3 537.1,573.3 537.4,574.2 537.7,575.2 537.9,576.2 538.2,577.1 538.5,578.1 538.7,579.1 539.0,580.0 539.3,581.0 539.6,581.9 539.9,582.9 540.2,583.8 540.5,584.8 540.8,585.7 541.1,586.7 541.5,587.6 541.8,588.6 542.2,589.5 542.5,590.4 542.9,591.4 543.3,592.3 543.7,593.2 544.1,594.1 544.6,595.0 545.0,595.9 545.4,596.8 545.9,597.7 546.3,598.6 546.8,599.5 547.3,600.4 547.8,601.2 548.2,602.1 548.7,603.0 549.2,603.9 549.7,604.7 550.2,605.6 550.6,606.5 551.1,607.4 551.6,608.3 552.0,609.2 552.5,610.0 552.9,610.9 553.4,611.8 553.8,612.7 554.3,613.6 554.8,614.5 555.2,615.4 555.7,616.3 556.1,617.2 556.6,618.0 557.1,618.9 557.5,619.8 558.0,620.7 558.4,621.6 558.9,622.5 559.3,623.4 559.7,624.3 560.2,625.2 560.6,626.1 561.0,627.0 561.4,627.9 561.9,628.8 562.3,629.7 562.7,630.7 563.1,631.6 563.4,632.5 563.8,633.4 564.2,634.3 564.6,635.3 565.0,636.2 565.3,637.1 565.7,638.1 566.1,639.0 566.4,639.9 566.8,640.8 567.2,641.8 567.5,642.7 567.9,643.7 568.2,644.6 568.6,645.5 568.9,646.5 569.3,647.4 569.6,648.3 570.0,649.3 570.3,650.2 570.6,651.2 570.9,652.1 571.3,653.1 571.6,654.0 571.9,655.0 572.2,655.9 572.5,656.9 572.8,657.8 573.2,658.8 573.5,659.7 573.8,660.7 574.1,661.6 574.4,662.6 574.7,663.5 575.0,664.5 575.3,665.4 575.7,666.4 576.0,667.3 576.3,668.3 576.6,669.2 576.9,670.2 577.2,671.1 577.5,672.1 577.8,673.0 578.2,674.0 578.5,674.9 578.8,675.9 579.1,676.8 579.4,677.8 579.7,678.7 580.0,679.7 580.3,680.6 580.7,681.6 581.0,682.5 581.3,683.5 581.6,684.4 581.9,685.3 582.2,686.3 582.6,687.2 582.9,688.2 583.2,689.1 583.5,690.1 583.8,691.0 584.2,692.0 584.5,692.9 584.8,693.9 585.1,694.8 585.4,695.8 585.8,696.7 586.1,697.7 586.4,698.6 586.7,699.6 587.0,700.5 587.3,701.5 587.6,702.4 587.9,703.4 588.2,704.3 588.5,705.3 588.8,706.2 589.1,707.2 589.4,708.1 589.7,709.1 590.0,710.1 590.3,711.0 590.6,712.0 590.9,712.9 591.2,713.9 591.5,714.8 591.8,715.8 592.1,716.7 592.3,717.7 592.6,718.7 592.8,719.7 593.0,720.6 593.3,721.5 593.7,722.2 594.2,722.4 594.7,722.0 595.2,721.2 595.5,720.3 595.8,719.4 596.1,718.4 596.3,717.4 596.6,716.5 596.8,715.5 597.1,714.5 597.3,713.5 597.5,712.6 597.7,711.6 597.8,710.6 598.0,709.6 598.2,708.6 598.3,707.6 598.5,706.6 598.6,705.7 598.7,704.7 598.9,703.7 599.0,702.7 599.1,701.7 599.2,700.7 599.4,699.7 599.5,698.7 599.6,697.7 599.7,696.7 599.8,695.7 599.9,694.7 600.1,693.7 600.2,692.8 600.3,691.8 600.4,690.8 600.4,689.8 600.5,688.8 600.6,687.8 600.7,686.8 600.8,685.8 600.9,684.8 601.0,683.8 601.0,682.8 601.1,681.8 601.2,680.8 601.3,679.8 601.4,678.8 601.4,677.8 601.5,676.8 601.6,675.8 601.7,674.8 601.7,673.8 601.8,672.8 601.9,671.8 602.0,670.8 602.0,669.8 602.1,668.8 602.2,667.8 602.2,666.8 602.3,665.8 602.4,664.8 602.5,663.8 602.5,662.8 602.6,661.9 602.7,660.9 602.8,659.9 602.8,658.9 602.9,657.9 603.0,656.9 603.1,655.9 603.1,654.9 603.2,653.9 603.3,652.9 603.4,651.9 603.4,650.9 603.5,649.9 603.6,648.9 603.7,647.9 603.7,646.9 603.8,645.9 603.9,644.9 604.0,643.9 604.0,642.9 604.1,641.9 604.2,640.9 604.3,639.9 604.3,638.9 604.4,637.9 604.5,636.9 604.6,635.9 604.6,634.9 604.7,633.9 604.8,632.9 604.8,631.9 604.9,630.9 605.0,629.9 605.1,628.9 605.1,627.9 605.2,626.9 605.3,626.0 605.4,625.0 605.4,624.0 605.5,623.0 605.6,622.0 605.6,621.0 605.7,620.0 605.8,619.0 605.9,618.0 605.9,617.0 606.0,616.0 606.1,615.0 606.2,614.0 606.2,613.0 606.3,612.0 606.4,611.0 606.5,610.0 606.6,609.0 606.6,608.0 606.7,607.0 606.8,606.0 606.9,605.0 606.9,604.0 607.0,603.0 607.1,602.0 607.2,601.0 607.2,600.0 607.3,599.0 607.4,598.0 607.5,597.0 607.6,596.0 607.6,595.0 607.7,594.0 607.8,593.0 607.8,592.0 607.9,591.0 608.0,590.1 608.1,589.1 608.1,588.1 608.2,587.1 608.3,586.1 608.3,585.1 608.4,584.1 608.5,583.1 608.5,582.1 608.6,581.1 608.7,580.1 608.7,579.1 608.8,578.1 608.9,577.1 608.9,576.1 609.0,575.1 609.1,574.1 609.1,573.1 609.2,572.1 609.2,571.1 609.3,570.1 609.4,569.1 609.4,568.1 609.5,567.1 609.5,566.1 609.6,565.1 609.7,564.1 609.7,563.1 609.8,562.1 609.8,561.1 609.9,560.1 610.0,559.1 610.0,558.1 610.1,557.1 610.1,556.1 610.2,555.1 610.3,554.1 610.3,553.1 610.4,552.1 610.4,551.1 610.5,550.1 610.6,549.1 610.6,548.1 610.7,547.1 610.8,546.1 610.8,545.1 610.9,544.1 611.0,543.1 611.0,542.2 611.1,541.2 611.2,540.2 611.3,539.2 611.3,538.2 611.4,537.2 611.5,536.2 611.6,535.2 611.6,534.2 611.7,533.2 611.8,532.2 611.9,531.2 611.9,530.2 612.0,529.2 612.1,528.2 612.2,527.2 612.3,526.2 612.3,525.2 612.4,524.2 612.5,523.2 612.6,522.2 612.7,521.2 612.8,520.2 612.9,519.2 612.9,518.2 613.0,517.2 613.1,516.2 613.2,515.2 613.3,514.2 613.4,513.2 613.5,512.2 613.6,511.3 613.7,510.3 613.8,509.3 613.9,508.3 614.0,507.3 614.1,506.3 614.2,505.3 614.3,504.3 614.4,503.3 614.5,502.3 614.6,501.3 614.7,500.3 614.8,499.3 614.9,498.3 615.0,497.3 615.1,496.3 615.3,495.3 615.4,494.3 615.5,493.4 615.6,492.4 615.7,491.4 615.9,490.4 616.0,489.4 616.2,488.4 616.3,487.4 616.5,486.4 616.6,485.4 616.8,484.5 617.0,483.5 617.2,482.5 617.4,481.5 617.6,480.5 617.8,479.6 618.0,478.6 618.3,477.6 618.6,476.7 618.9,475.7 619.2,474.8 619.6,473.9 620.1,473.0 620.6,472.1 621.1,471.3 621.7,470.5 622.5,470.0 623.3,469.7 624.3,469.7 625.2,469.9 626.1,470.3 627.0,470.8 627.8,471.3 628.7,471.8 629.5,472.4 630.3,473.0 631.1,473.6 631.9,474.2 632.6,474.9 633.3,475.6 634.0,476.3 634.7,477.1 635.3,477.8 636.0,478.6 636.6,479.4 637.2,480.2 637.7,481.1 638.2,481.9 638.7,482.8 639.2,483.6 639.7,484.5 640.2,485.4 640.7,486.3 641.2,487.1 641.7,488.0 642.2,488.8 642.7,489.7 643.3,490.5 643.9,491.3 644.5,492.1 645.0,493.0 645.6,493.8 646.2,494.5 646.9,495.3 647.6,496.0 648.4,496.6 649.3,497.0 650.2,497.3 651.2,497.6 652.2,497.8 653.1,498.0 654.1,498.2 655.1,498.3 656.1,498.4 657.1,498.6 658.1,498.8 659.0,499.1 659.9,499.5 660.7,500.1 661.4,500.7 662.1,501.4 662.8,502.2 663.5,502.9 664.1,503.7 664.6,504.5 665.2,505.4 665.7,506.3 666.1,507.2 666.5,508.1 667.0,509.0 667.4,509.9 667.8,510.8 668.2,511.7 668.6,512.6 669.0,513.5 669.4,514.5 669.8,515.4 670.1,516.3 670.5,517.2 670.9,518.2 671.2,519.1 671.6,520.0 671.9,521.0 672.2,521.9 672.6,522.9 672.9,523.8 673.3,524.7 673.6,525.7 673.9,526.6 674.3,527.6 674.6,528.5 675.0,529.4 675.3,530.4 675.7,531.3 676.1,532.2 676.4,533.2 676.8,534.1 677.2,535.0 677.5,536.0 677.9,536.9 678.2,537.8 678.6,538.8 678.9,539.7 679.3,540.6 679.6,541.6 679.9,542.5 680.2,543.5 680.5,544.4 680.8,545.4 681.1,546.4 681.3,547.3 681.6,548.3 681.9,549.3 682.1,550.2 682.4,551.2 682.6,552.2 682.8,553.1 683.1,554.1 683.3,555.1 683.5,556.1 683.8,557.0 684.0,558.0 684.2,559.0 684.5,559.9 684.7,560.9 685.0,561.9 685.2,562.9 685.5,563.8 685.7,564.8 686.0,565.8 686.2,566.7 686.4,567.7 686.7,568.7 686.9,569.6 687.2,570.6 687.4,571.6 687.7,572.6 687.9,573.5 688.1,574.5 688.4,575.5 688.6,576.4 688.9,577.4 689.1,578.4 689.4,579.3 689.6,580.3 689.9,581.3 690.1,582.2 690.4,583.2 690.6,584.2 690.9,585.1 691.2,586.1 691.4,587.1 691.7,588.0 692.0,589.0 692.3,589.9 692.6,590.9 692.9,591.8 693.2,592.8 693.6,593.7 693.9,594.7 694.3,595.6 694.6,596.5 695.0,597.5 695.3,598.4 695.7,599.3 696.1,600.3 696.4,601.2 696.8,602.1 697.2,603.0 697.6,604.0 698.0,604.9 698.4,605.8 698.8,606.7 699.2,607.6 699.6,608.5 700.0,609.4 700.5,610.4 700.9,611.3 701.3,612.2 701.7,613.1 702.1,614.0 702.6,614.9 703.0,615.8 703.4,616.7 703.8,617.6 704.3,618.5 704.7,619.4 705.2,620.3 705.6,621.2 706.1,622.1 706.5,623.0 707.0,623.9 707.4,624.7 707.9,625.6 708.4,626.5 708.8,627.4 709.3,628.3 709.7,629.2 710.2,630.1 710.6,631.0 711.1,631.9 711.5,632.8 712.0,633.7 712.4,634.6 712.8,635.5 713.2,636.4 713.7,637.3 714.1,638.2 714.5,639.1 714.9,640.0 715.3,640.9 715.7,641.8 716.2,642.7 716.6,643.7 717.0,644.6 717.4,645.5 717.8,646.4 718.2,647.3 718.6,648.2 718.9,649.2 719.3,650.1 719.7,651.0 720.1,651.9 720.5,652.9 720.8,653.8 721.2,654.7 721.6,655.7 721.9,656.6 722.3,657.5 722.6,658.5 723.0,659.4 723.3,660.3 723.7,661.3 724.0,662.2 724.4,663.1 724.7,664.1 725.0,665.0 725.4,666.0 725.7,666.9 726.1,667.9 726.4,668.8 726.7,669.7 727.0,670.7 727.4,671.6 727.7,672.6 728.0,673.5 728.4,674.5 728.7,675.4 729.0,676.4 729.4,677.3 729.7,678.2 730.0,679.2 730.3,680.1 730.7,681.1 731.0,682.0 731.3,683.0 731.6,683.9 731.9,684.9 732.2,685.8 732.5,686.8 732.8,687.7 733.1,688.7 733.4,689.6 733.7,690.6 734.0,691.6 734.2,692.5 734.5,693.5 734.8,694.5 735.0,695.4 735.3,696.4 735.5,697.4 735.8,698.3 736.0,699.3 736.2,700.3 736.5,701.2 736.7,702.2 736.9,703.2 737.2,704.2 737.4,705.1 737.6,706.1 737.9,707.1 738.1,708.1 738.3,709.0 738.6,710.0 738.8,711.0 739.0,711.9 739.2,712.9 739.4,713.9 739.6,714.9 739.8,715.9 740.0,716.9 740.2,717.8 740.4,718.8 740.6,719.8 740.8,720.7 741.1,721.6 741.5,722.2 742.0,722.3 742.4,721.8 742.7,721.0 743.0,720.0 743.2,719.1 743.4,718.1 743.6,717.1 743.8,716.1 743.9,715.1 744.1,714.1 744.3,713.2 744.5,712.2 744.6,711.2 744.8,710.2 745.0,709.2 745.2,708.2 745.4,707.2 745.5,706.3 745.7,705.3 745.9,704.3 746.0,703.3 746.2,702.3 746.3,701.3 746.5,700.3 746.6,699.3 746.7,698.4 746.9,697.4 747.0,696.4 747.2,695.4 747.3,694.4 747.4,693.4 747.5,692.4 747.7,691.4 747.8,690.4 747.9,689.4 748.0,688.4 748.1,687.4 748.3,686.5 748.4,685.5 748.5,684.5 748.6,683.5 748.7,682.5 748.8,681.5 748.9,680.5 749.0,679.5 749.1,678.5 749.2,677.5 749.3,676.5 749.4,675.5 749.5,674.5 749.5,673.5 749.6,672.5 749.7,671.5 749.8,670.5 749.9,669.5 749.9,668.5 750.0,667.5 750.1,666.5 750.2,665.5 750.3,664.5 750.3,663.5 750.4,662.5 750.5,661.6 750.6,660.6 750.6,659.6 750.7,658.6 750.8,657.6 750.9,656.6 750.9,655.6 751.0,654.6 751.1,653.6 751.2,652.6 751.2,651.6 751.3,650.6 751.4,649.6 751.5,648.6 751.6,647.6 751.6,646.6 751.7,645.6 751.8,644.6 751.9,643.6 752.0,642.6 752.0,641.6 752.1,640.6 752.2,639.6 752.3,638.6 752.3,637.6 752.4,636.6 752.5,635.6 752.6,634.6 752.7,633.6 752.7,632.6 752.8,631.6 752.9,630.6 753.0,629.6 753.0,628.7 753.1,627.7 753.2,626.7 753.3,625.7 753.3,624.7 753.4,623.7 753.5,622.7 753.6,621.7 753.6,620.7 753.7,619.7 753.8,618.7 753.9,617.7 753.9,616.7 754.0,615.7 754.1,614.7 754.2,613.7 754.2,612.7 754.3,611.7 754.4,610.7 754.5,609.7 754.5,608.7 754.6,607.7 754.7,606.7 754.7,605.7 754.8,604.7 754.9,603.7 754.9,602.7 755.0,601.7 755.1,600.7 755.1,599.7 755.2,598.7 755.3,597.7 755.3,596.7 755.4,595.7 755.5,594.7 755.5,593.7 755.6,592.7 755.7,591.7 755.7,590.7 755.8,589.7 755.9,588.8 755.9,587.8 756.0,586.8 756.1,585.8 756.1,584.8 756.2,583.8 756.3,582.8 756.3,581.8 756.4,580.8 756.5,579.8 756.5,578.8 756.6,577.8 756.7,576.8 756.7,575.8 756.8,574.8 756.9,573.8 757.0,572.8 757.0,571.8 757.1,570.8 757.2,569.8 757.3,568.8 757.3,567.8 757.4,566.8 757.5,565.8 757.5,564.8 757.6,563.8 757.7,562.8 757.8,561.8 757.8,560.8 757.9,559.8 758.0,558.8 758.1,557.8 758.1,556.8 758.2,555.8 758.3,554.8 758.4,553.8 758.5,552.8 758.5,551.8 758.6,550.9 758.7,549.9 758.8,548.9 758.9,547.9 758.9,546.9 759.0,545.9 759.1,544.9 759.2,543.9 759.3,542.9 759.4,541.9 759.4,540.9 759.5,539.9 759.6,538.9 759.7,537.9 759.8,536.9 759.9,535.9 759.9,534.9 760.0,533.9 760.1,532.9 760.2,531.9 760.3,530.9 760.4,529.9 760.5,528.9 760.6,527.9 760.7,526.9 760.7,525.9 760.8,524.9 760.9,524.0 761.0,523.0 761.1,522.0 761.2,521.0 761.3,520.0 761.4,519.0 761.5,518.0 761.6,517.0 761.7,516.0 761.8,515.0 761.9,514.0 762.0,513.0 762.1,512.0 762.3,511.0 762.4,510.0 762.5,509.0 762.6,508.0 762.7,507.0 762.8,506.0 762.9,505.1 763.0,504.1 763.1,503.1 763.3,502.1 763.4,501.1 763.5,500.1 763.6,499.1 763.8,498.1 763.9,497.1 764.0,496.1 764.2,495.1 764.4,494.2 764.5,493.2 764.7,492.2 765.0,491.2 765.2,490.2 765.4,489.3 765.7,488.3 765.9,487.3 766.2,486.4 766.5,485.4 766.8,484.5 767.1,483.5 767.5,482.6 768.1,481.8 768.7,481.1 769.5,480.5 770.3,480.0 771.2,479.7 772.2,479.7 773.1,479.9 774.1,480.3 774.9,480.7 775.8,481.2 776.7,481.8 777.5,482.3 778.3,483.0 779.0,483.6 779.7,484.3 780.4,485.0 781.1,485.7 781.8,486.5 782.4,487.2 783.1,488.0 783.7,488.8 784.3,489.6 784.8,490.4 785.4,491.3 786.0,492.1 786.5,492.9 787.0,493.8 787.5,494.6 788.0,495.5 788.5,496.4 788.9,497.3 789.4,498.2 789.9,499.1 790.4,499.9 790.9,500.8 791.5,501.6 792.2,502.3 792.9,502.9 793.7,503.5 794.6,504.1 795.5,504.5 796.4,504.8 797.3,505.0 798.3,504.9 799.2,504.7 800.1,504.2 801.0,503.7 801.8,503.2 802.7,502.7 803.6,502.3 804.5,501.9 805.4,501.5 806.3,501.1 807.3,500.9 808.3,500.8 809.2,500.9 810.1,501.2 810.9,501.7 811.7,502.3 812.4,503.0 813.0,503.8 813.6,504.6 814.2,505.4 814.7,506.3 815.3,507.1 815.8,508.0 816.3,508.8 816.8,509.7 817.2,510.6 817.6,511.5 817.9,512.4 818.3,513.4 818.6,514.3 818.9,515.3 819.1,516.3 819.4,517.2 819.7,518.2 819.9,519.2 820.2,520.1 820.4,521.1 820.7,522.1 820.9,523.0 821.2,524.0 821.4,525.0 821.7,525.9 822.0,526.9 822.2,527.9 822.5,528.8 822.8,529.8 823.1,530.7 823.4,531.7 823.7,532.6 824.0,533.6 824.3,534.6 824.5,535.5 824.8,536.5 825.1,537.4 825.4,538.4 825.7,539.3 826.0,540.3 826.3,541.3 826.6,542.2 826.9,543.2 827.2,544.1 827.4,545.1 827.7,546.0 828.0,547.0 828.3,548.0 828.6,548.9 828.9,549.9 829.2,550.8 829.4,551.8 829.7,552.8 830.0,553.7 830.3,554.7 830.5,555.6 830.8,556.6 831.1,557.6 831.4,558.5 831.6,559.5 831.9,560.4 832.2,561.4 832.5,562.4 832.8,563.3 833.1,564.3 833.3,565.2 833.6,566.2 834.0,567.1 834.3,568.1 834.6,569.0 834.9,570.0 835.3,570.9 835.6,571.9 836.0,572.8 836.3,573.7 836.7,574.7 837.1,575.6 837.4,576.5 837.8,577.5 838.2,578.4 838.5,579.3 838.9,580.2 839.2,581.2 839.6,582.1 839.9,583.1 840.3,584.0 840.6,584.9 840.9,585.9 841.2,586.8 841.5,587.8 841.8,588.7 842.1,589.7 842.4,590.7 842.7,591.6 843.0,592.6 843.3,593.5 843.6,594.5 843.9,595.4 844.2,596.4 844.5,597.3 844.8,598.3 845.1,599.3 845.4,600.2 845.7,601.2 846.0,602.1 846.3,603.0 846.7,604.0 847.0,604.9 847.3,605.9 847.7,606.8 848.0,607.8 848.4,608.7 848.7,609.6 849.0,610.6 849.4,611.5 849.7,612.5 850.1,613.4 850.4,614.3 850.8,615.3 851.2,616.2 851.5,617.1 851.9,618.1 852.2,619.0 852.6,619.9 853.0,620.9 853.4,621.8 853.7,622.7 854.1,623.6 854.5,624.6 854.9,625.5 855.3,626.4 855.6,627.3 856.0,628.2 856.4,629.2 856.8,630.1 857.2,631.0 857.6,631.9 858.0,632.8 858.4,633.8 858.8,634.7 859.2,635.6 859.6,636.5 860.0,637.4 860.3,638.4 860.7,639.3 861.1,640.2 861.5,641.1 861.9,642.1 862.3,643.0 862.6,643.9 863.0,644.8 863.4,645.8 863.8,646.7 864.2,647.6 864.5,648.5 864.9,649.5 865.3,650.4 865.7,651.3 866.1,652.2 866.4,653.2 866.8,654.1 867.2,655.0 867.6,655.9 868.0,656.8 868.4,657.8 868.8,658.7 869.2,659.6 869.6,660.5 870.0,661.4 870.5,662.3 870.9,663.2 871.3,664.1 871.7,665.0 872.2,665.9 872.6,666.8 873.0,667.7 873.4,668.7 873.8,669.6 874.3,670.5 874.7,671.4 875.1,672.3 875.5,673.2 875.9,674.1 876.2,675.1 876.6,676.0 877.0,676.9 877.3,677.9 877.7,678.8 878.1,679.7 878.4,680.7 878.8,681.6 879.1,682.5 879.4,683.5 879.8,684.4 880.1,685.4 880.5,686.3 880.8,687.2 881.1,688.2 881.5,689.1 881.8,690.1 882.1,691.0 882.4,692.0 882.8,692.9 883.1,693.9 883.4,694.8 883.7,695.7 884.0,696.7 884.4,697.6 884.7,698.6 885.0,699.5 885.3,700.5 885.6,701.4 885.9,702.4 886.2,703.3 886.5,704.3 886.9,705.2 887.2,706.2 887.5,707.1 887.8,708.1 888.2,709.0 888.5,710.0 888.8,710.9 889.1,711.9 889.5,712.8 889.8,713.7 890.2,714.7 890.5,715.6 890.9,716.6 891.3,717.5 891.7,718.4 892.1,719.3 892.5,720.2 893.0,721.1 893.5,721.9 894.1,722.4 894.7,722.4 895.2,721.9 895.6,721.1 896.0,720.2 896.2,719.2 896.5,718.2 896.7,717.3 897.0,716.3 897.2,715.3 897.4,714.3 897.6,713.4 897.8,712.4 897.9,711.4 898.1,710.4 898.2,709.4 898.3,708.4 898.5,707.4 898.6,706.4 898.7,705.4 898.8,704.5 898.9,703.5 899.0,702.5 899.2,701.5 899.3,700.5 899.4,699.5 899.5,698.5 899.6,697.5 899.7,696.5 899.8,695.5 899.9,694.5 900.0,693.5 900.1,692.5 900.2,691.5 900.3,690.5 900.4,689.5 900.5,688.5 900.6,687.5 900.6,686.5 900.7,685.6 900.8,684.6 900.9,683.6 901.0,682.6 901.1,681.6 901.1,680.6 901.2,679.6 901.3,678.6 901.4,677.6 901.4,676.6 901.5,675.6 901.6,674.6 901.7,673.6 901.7,672.6 901.8,671.6 901.9,670.6 902.0,669.6 902.0,668.6 902.1,667.6 902.2,666.6 902.2,665.6 902.3,664.6 902.4,663.6 902.5,662.6 902.5,661.6 902.6,660.6 902.7,659.6 902.7,658.6 902.8,657.6 902.9,656.6 903.0,655.6 903.0,654.6 903.1,653.6 903.2,652.6 903.2,651.6 903.3,650.6 903.4,649.7 903.5,648.7 903.5,647.7 903.6,646.7 903.7,645.7 903.7,644.7 903.8,643.7 903.9,642.7 903.9,641.7 904.0,640.7 904.1,639.7 904.1,638.7 904.2,637.7 904.3,636.7 904.3,635.7 904.4,634.7 904.5,633.7 904.5,632.7 904.6,631.7 904.7,630.7 904.7,629.7 904.8,628.7 904.9,627.7 904.9,626.7 905.0,625.7 905.1,624.7 905.1,623.7 905.2,622.7 905.3,621.7 905.3,620.7 905.4,619.7 905.5,618.7 905.5,617.7 905.6,616.7 905.7,615.7 905.7,614.7 905.8,613.7 905.9,612.7 905.9,611.7 906.0,610.7 906.1,609.7 906.1,608.7 906.2,607.7 906.3,606.7 906.3,605.7 906.4,604.8 906.5,603.8 906.5,602.8 906.6,601.8 906.7,600.8 906.7,599.8 906.8,598.8 906.9,597.8 907.0,596.8 907.0,595.8 907.1,594.8 907.2,593.8 907.2,592.8 907.3,591.8 907.4,590.8 907.5,589.8 907.5,588.8 907.6,587.8 907.7,586.8 907.7,585.8 907.8,584.8 907.9,583.8 907.9,582.8 908.0,581.8 908.1,580.8 908.2,579.8 908.2,578.8 908.3,577.8 908.4,576.8 908.4,575.8 908.5,574.8 908.6,573.8 908.7,572.8 908.7,571.8 908.8,570.8 908.9,569.8 908.9,568.8 909.0,567.8 909.1,566.8 909.1,565.8 909.2,564.8 909.3,563.9 909.3,562.9 909.4,561.9 909.5,560.9 909.5,559.9 909.6,558.9 909.7,557.9 909.7,556.9 909.8,555.9 909.9,554.9 909.9,553.9 910.0,552.9 910.1,551.9 910.2,550.9 910.2,549.9 910.3,548.9 910.4,547.9 910.5,546.9 910.5,545.9 910.6,544.9 910.7,543.9 910.8,542.9 910.8,541.9 910.9,540.9 911.0,539.9 911.1,538.9 911.2,537.9 911.3,536.9 911.3,535.9 911.4,534.9 911.5,533.9 911.6,532.9 911.7,531.9 911.8,530.9 911.9,530.0 912.0,529.0 912.1,528.0 912.1,527.0 912.2,526.0 912.3,525.0 912.4,524.0 912.5,523.0 912.6,522.0 912.7,521.0 912.8,520.0 912.9,519.0 913.0,518.0 913.1,517.0 913.2,516.0 913.3,515.0 913.4,514.0 913.5,513.0 913.5,512.0 913.6,511.0 913.7,510.0 913.8,509.0 913.9,508.0 914.0,507.1 914.1,506.1 914.2,505.1 914.3,504.1 914.4,503.1 914.4,502.1 914.5,501.1 914.6,500.1 914.7,499.1 914.8,498.1 914.9,497.1 915.0,496.1 915.1,495.1 915.2,494.1 915.3,493.1 915.4,492.1 915.5,491.1 915.6,490.1 915.7,489.1 915.8,488.1 915.9,487.1 916.0,486.2 916.2,485.2 916.3,484.2 916.5,483.2 916.6,482.2 916.8,481.2 916.9,480.2 917.0,479.2 917.2,478.2 917.4,477.2 917.5,476.3 917.7,475.3 917.8,474.3 918.0,473.3 918.2,472.3 918.4,471.3 918.6,470.4 918.8,469.4 919.1,468.4 919.3,467.5 919.6,466.5 920.0,465.6 920.4,464.7 920.8,463.8 921.3,462.9 921.8,462.0 922.3,461.2 922.9,460.3 923.5,459.6 924.3,459.0 925.2,458.7 926.1,458.5 927.1,458.6 928.1,458.7 929.0,458.9 930.0,459.2 931.0,459.5 931.9,459.8 932.8,460.2 933.6,460.7 934.5,461.3 935.2,461.9 936.0,462.6 936.7,463.3 937.4,464.0 938.1,464.7 938.8,465.5 939.4,466.2 940.0,467.0 940.6,467.9 941.1,468.7 941.7,469.5 942.3,470.3 942.9,471.1 943.5,471.9 944.1,472.7 944.8,473.4 945.5,474.2 946.1,474.9 946.9,475.6 947.7,476.2 948.5,476.7 949.4,477.2 950.3,477.6 951.2,478.0 952.1,478.3 953.1,478.5 954.1,478.6 955.1,478.6 956.1,478.6 957.1,478.6 958.1,478.6 959.1,478.7 960.0,479.0 960.8,479.4 961.6,480.1 962.3,480.8 962.9,481.6 963.5,482.4 964.1,483.2 964.6,484.0 965.2,484.8 965.7,485.7 966.2,486.5 966.7,487.4 967.1,488.3 967.5,489.2 967.9,490.1 968.3,491.1 968.7,492.0 969.1,492.9 969.5,493.8 969.9,494.8 970.2,495.7 970.6,496.6 970.9,497.6 971.3,498.5 971.6,499.4 971.9,500.4 972.3,501.3 972.6,502.3 972.9,503.2 973.2,504.2 973.5,505.1 973.8,506.1 974.1,507.0 974.4,508.0 974.7,509.0 975.0,509.9 975.3,510.9 975.6,511.8 975.9,512.8 976.2,513.7 976.4,514.7 976.7,515.7 977.0,516.6 977.3,517.6 977.6,518.5 977.9,519.5 978.1,520.5 978.4,521.4 978.7,522.4 979.0,523.3 979.2,524.3 979.5,525.3 979.8,526.2 980.0,527.2 980.3,528.2 980.5,529.1 980.8,530.1 981.1,531.1 981.3,532.0 981.6,533.0 981.8,534.0 982.1,534.9 982.3,535.9 982.6,536.9 982.8,537.8 983.0,538.8 983.3,539.8 983.5,540.7 983.8,541.7 984.0,542.7 984.2,543.7 984.5,544.6 984.7,545.6 984.9,546.6 985.1,547.6 985.3,548.5 985.5,549.5 985.8,550.5 986.0,551.5 986.2,552.5 986.4,553.4 986.6,554.4 986.8,555.4 987.0,556.4 987.2,557.3 987.5,558.3 987.7,559.3 987.9,560.3 988.1,561.2 988.3,562.2 988.5,563.2 988.8,564.2 989.0,565.1 989.2,566.1 989.5,567.1 989.7,568.1 990.0,569.0 990.2,570.0 990.5,571.0 990.7,571.9 991.0,572.9 991.2,573.9 991.5,574.8 991.8,575.8 992.1,576.7 992.3,577.7 992.6,578.7 992.9,579.6 993.2,580.6 993.5,581.5 993.8,582.5 994.0,583.5 994.3,584.4 994.6,585.4 994.9,586.3 995.2,587.3 995.5,588.2 995.9,589.2 996.2,590.1 996.5,591.1 996.8,592.0 997.1,593.0 997.4,593.9 997.7,594.9 998.0,595.8 998.4,596.8 998.7,597.7 999.0,598.7 999.3,599.6 999.7,600.6 1000.0,601.5 1000.3,602.4 1000.7,603.4 1001.0,604.3 1001.3,605.3 1001.7,606.2 1002.0,607.1 1002.4,608.1 1002.7,609.0 1003.1,610.0 1003.4,610.9 1003.8,611.8 1004.1,612.8 1004.5,613.7 1004.8,614.6 1005.2,615.6 1005.6,616.5 1005.9,617.4 1006.3,618.3 1006.7,619.3 1007.1,620.2 1007.5,621.1 1007.8,622.1 1008.2,623.0 1008.6,623.9 1009.0,624.8 1009.4,625.7 1009.8,626.6 1010.2,627.6 1010.6,628.5 1011.0,629.4 1011.4,630.3 1011.8,631.2 1012.3,632.1 1012.7,633.0 1013.1,633.9 1013.5,634.9 1013.9,635.8 1014.3,636.7 1014.8,637.6 1015.2,638.5 1015.6,639.4 1016.0,640.3 1016.5,641.2 1016.9,642.1 1017.4,643.0 1017.8,643.9 1018.3,644.8 1018.7,645.7 1019.2,646.5 1019.7,647.4 1020.1,648.3 1020.6,649.2 1021.0,650.1 1021.5,651.0 1021.9,651.9 1022.4,652.8 1022.8,653.7 1023.2,654.6 1023.6,655.5 1024.0,656.4 1024.4,657.3 1024.8,658.3 1025.2,659.2 1025.5,660.1 1025.9,661.1 1026.2,662.0 1026.6,662.9 1026.9,663.9 1027.3,664.8 1027.6,665.8 1027.9,666.7 1028.2,667.6 1028.6,668.6 1028.9,669.5 1029.2,670.5 1029.5,671.4 1029.8,672.4 1030.2,673.3 1030.5,674.3 1030.8,675.2 1031.1,676.2 1031.4,677.1 1031.7,678.1 1032.0,679.0 1032.3,680.0 1032.6,680.9 1032.9,681.9 1033.2,682.9 1033.5,683.8 1033.8,684.8 1034.1,685.7 1034.4,686.7 1034.7,687.6 1035.0,688.6 1035.2,689.6 1035.5,690.5 1035.8,691.5 1036.1,692.4 1036.4,693.4 1036.6,694.4 1036.9,695.3 1037.2,696.3 1037.4,697.2 1037.7,698.2 1038.0,699.2 1038.2,700.1 1038.5,701.1 1038.8,702.1 1039.0,703.0 1039.3,704.0 1039.5,705.0 1039.8,705.9 1040.0,706.9 1040.2,707.9 1040.5,708.9 1040.7,709.8 1041.0,710.8 1041.2,711.8 1041.4,712.7 1041.7,713.7 1041.9,714.7 1042.1,715.7 1042.3,716.6 1042.5,717.6 1042.7,718.6 1042.9,719.6 1043.0,720.6 1043.3,721.5 1043.6,722.2 1044.1,722.4 1044.6,722.0 1045.1,721.3 1045.5,720.4 1045.8,719.4 1046.1,718.5 1046.3,717.5 1046.6,716.5 1046.8,715.6 1047.0,714.6 1047.2,713.6 1047.4,712.6 1047.6,711.7 1047.7,710.7 1047.9,709.7 1048.0,708.7 1048.1,707.7 1048.2,706.7 1048.3,705.7 1048.4,704.7 1048.4,703.7 1048.5,702.7 1048.6,701.7 1048.7,700.7 1048.8,699.7 1048.8,698.7 1048.9,697.7 1049.0,696.7 1049.1,695.7 1049.1,694.7 1049.2,693.7 1049.3,692.7 1049.4,691.7 1049.4,690.7 1049.5,689.7 1049.6,688.7 1049.7,687.7 1049.7,686.8 1049.8,685.8 1049.9,684.8 1050.0,683.8 1050.0,682.8 1050.1,681.8 1050.2,680.8 1050.3,679.8 1050.3,678.8 1050.4,677.8 1050.5,676.8 1050.6,675.8 1050.7,674.8 1050.8,673.8 1050.8,672.8 1050.9,671.8 1051.0,670.8 1051.1,669.8 1051.2,668.8 1051.2,667.8 1051.3,666.8 1051.4,665.8 1051.5,664.8 1051.5,663.8 1051.6,662.8 1051.7,661.8 1051.8,660.8 1051.9,659.8 1051.9,658.8 1052.0,657.8 1052.1,656.8 1052.2,655.8 1052.2,654.8 1052.3,653.9 1052.4,652.9 1052.5,651.9 1052.6,650.9 1052.6,649.9 1052.7,648.9 1052.8,647.9 1052.9,646.9 1052.9,645.9 1053.0,644.9 1053.1,643.9 1053.2,642.9 1053.2,641.9 1053.3,640.9 1053.4,639.9 1053.5,638.9 1053.6,637.9 1053.6,636.9 1053.7,635.9 1053.8,634.9 1053.9,633.9 1053.9,632.9 1054.0,631.9 1054.1,630.9 1054.2,629.9 1054.2,628.9 1054.3,627.9 1054.4,626.9 1054.5,625.9 1054.5,624.9 1054.6,623.9 1054.7,622.9 1054.8,621.9 1054.9,620.9 1054.9,620.0 1055.0,619.0 1055.1,618.0 1055.2,617.0 1055.2,616.0 1055.3,615.0 1055.4,614.0 1055.5,613.0 1055.5,612.0 1055.6,611.0 1055.7,610.0 1055.8,609.0 1055.8,608.0 1055.9,607.0 1056.0,606.0 1056.1,605.0 1056.1,604.0 1056.2,603.0 1056.3,602.0 1056.4,601.0 1056.5,600.0 1056.5,599.0 1056.6,598.0 1056.7,597.0 1056.8,596.0 1056.9,595.0 1056.9,594.0 1057.0,593.0 1057.1,592.0 1057.2,591.0 1057.3,590.0 1057.4,589.1 1057.5,588.1 1057.6,587.1 1057.7,586.1 1057.7,585.1 1057.8,584.1 1057.9,583.1 1058.0,582.1 1058.1,581.1 1058.1,580.1 1058.2,579.1 1058.3,578.1 1058.4,577.1 1058.4,576.1 1058.5,575.1 1058.6,574.1 1058.6,573.1 1058.7,572.1 1058.7,571.1 1058.8,570.1 1058.8,569.1 1058.9,568.1 1058.9,567.1 1059.0,566.1 1059.0,565.1 1059.0,564.1 1059.1,563.1 1059.1,562.1 1059.2,561.1 1059.2,560.1 1059.3,559.1 1059.3,558.1 1059.3,557.1 1059.4,556.1 1059.4,555.1 1059.5,554.1 1059.5,553.1 1059.6,552.1 1059.6,551.1 1059.6,550.1 1059.7,549.1 1059.7,548.1 1059.8,547.1 1059.9,546.1 1059.9,545.1 1060.0,544.1 1060.0,543.1 1060.1,542.1 1060.2,541.1 1060.3,540.1 1060.3,539.1 1060.4,538.1 1060.5,537.1 1060.6,536.2 1060.6,535.2 1060.7,534.2 1060.8,533.2 1060.9,532.2 1061.0,531.2 1061.0,530.2 1061.1,529.2 1061.2,528.2 1061.3,527.2 1061.4,526.2 1061.5,525.2 1061.6,524.2 1061.7,523.2 1061.8,522.2 1061.9,521.2 1062.0,520.2 1062.1,519.2 1062.2,518.2 1062.4,517.2 1062.5,516.2 1062.6,515.3 1062.7,514.3 1062.8,513.3 1063.0,512.3 1063.1,511.3 1063.2,510.3 1063.3,509.3 1063.5,508.3 1063.6,507.3 1063.7,506.3 1063.9,505.3 1064.0,504.3 1064.1,503.4 1064.3,502.4 1064.4,501.4 1064.6,500.4 1064.7,499.4 1064.9,498.4 1065.0,497.4 1065.2,496.4 1065.4,495.4 1065.5,494.5 1065.7,493.5 1065.9,492.5 1066.2,491.5 1066.4,490.6 1066.6,489.6 1066.9,488.6 1067.2,487.7 1067.4,486.7 1067.7,485.7 1068.0,484.8 1068.4,483.8 1068.7,482.9 1069.1,482.0 1069.6,481.2 1070.3,480.4 1071.0,479.8 1071.8,479.2 1072.7,478.9 1073.6,478.9 1074.5,479.2 1075.3,479.8 1076.0,480.4 1076.6,481.2 1077.3,482.0 1077.9,482.7 1078.6,483.5 1079.2,484.3 1079.8,485.0 1080.5,485.8 1081.1,486.6 1081.7,487.4 1082.3,488.2 1082.8,489.0 1083.4,489.9 1083.9,490.7 1084.4,491.6 1085.0,492.4 1085.4,493.3 1085.9,494.2 1086.4,495.1 1086.9,495.9 1087.3,496.8 1087.8,497.7 1088.2,498.6 1088.7,499.5 1089.2,500.4 1089.6,501.3 1090.1,502.1 1090.5,503.0 1091.0,503.9 1091.4,504.8 1091.9,505.7 1092.3,506.6 1092.8,507.5 1093.3,508.4 1093.8,509.2 1094.4,510.1 1095.0,510.8 1095.6,511.6 1096.3,512.3 1097.1,513.0 1097.8,513.6 1098.6,514.2 1099.4,514.8 1100.3,515.3 1101.2,515.7 1102.1,516.1 1103.1,516.4 1104.0,516.7 1104.9,516.9 1105.5,517.0 1105.5,517.0" fill="none" stroke="#0072BD" stroke-width="2.8" stroke-linejoin="round"/></g>
<text x="607.12" y="808.0" text-anchor="middle" class="lb">Time (s)</text>
<text transform="translate(24.5,576.5) rotate(-90) scale(1,1.05)" text-anchor="middle" class="lb">Detrended PPG</text>
</g>
</svg>
</body></html>
